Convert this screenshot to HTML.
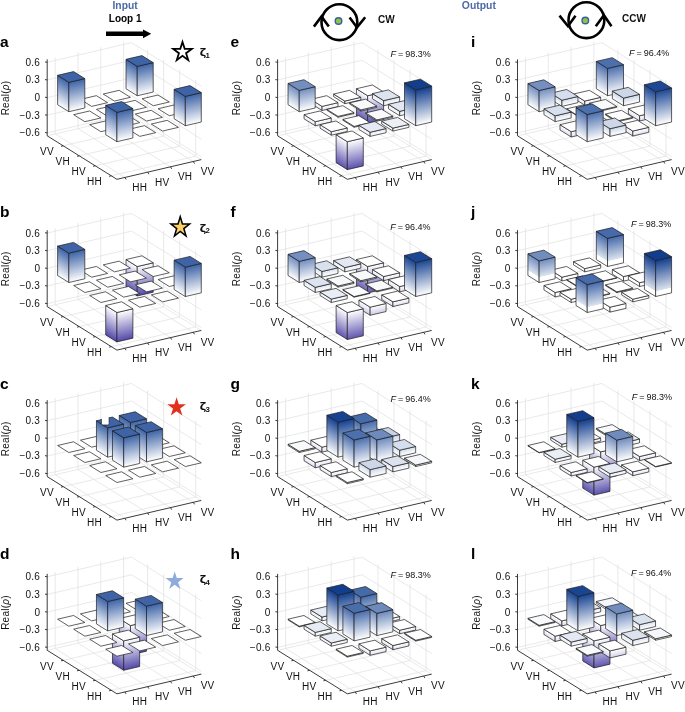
<!DOCTYPE html>
<html lang="en"><head><meta charset="utf-8"><title>Density matrices</title>
<style>html,body{margin:0;padding:0;background:#fff}svg{display:block}text{font-family:"Liberation Sans", Arial, Helvetica, sans-serif}text.z{font-family:"DejaVu Sans","Liberation Sans",sans-serif}tspan.s{font-family:"Liberation Sans", Arial, Helvetica, sans-serif}</style>
</head><body>
<svg width="685" height="712" viewBox="0 0 685 712">
<rect width="685" height="712" fill="#fff"/>
<defs><linearGradient id="g0" gradientUnits="userSpaceOnUse" x1="126.02" y1="59.34" x2="112.82" y2="80.5"><stop offset="0" stop-color="#3e64a7"/><stop offset="1" stop-color="#fff"/></linearGradient><linearGradient id="g1" gradientUnits="userSpaceOnUse" x1="137.24" y1="66.34" x2="143.75" y2="94.22"><stop offset="0" stop-color="#3e64a7"/><stop offset="1" stop-color="#fff"/></linearGradient><linearGradient id="g2" gradientUnits="userSpaceOnUse" x1="57.62" y1="75.3" x2="44.42" y2="96.46"><stop offset="0" stop-color="#3e64a7"/><stop offset="1" stop-color="#fff"/></linearGradient><linearGradient id="g3" gradientUnits="userSpaceOnUse" x1="68.84" y1="82.3" x2="75.35" y2="110.18"><stop offset="0" stop-color="#3e64a7"/><stop offset="1" stop-color="#fff"/></linearGradient><linearGradient id="g4" gradientUnits="userSpaceOnUse" x1="174.11" y1="89.34" x2="160.91" y2="110.5"><stop offset="0" stop-color="#3e64a7"/><stop offset="1" stop-color="#fff"/></linearGradient><linearGradient id="g5" gradientUnits="userSpaceOnUse" x1="185.33" y1="96.34" x2="191.84" y2="124.22"><stop offset="0" stop-color="#3e64a7"/><stop offset="1" stop-color="#fff"/></linearGradient><linearGradient id="g6" gradientUnits="userSpaceOnUse" x1="105.71" y1="105.3" x2="92.51" y2="126.46"><stop offset="0" stop-color="#3e64a7"/><stop offset="1" stop-color="#fff"/></linearGradient><linearGradient id="g7" gradientUnits="userSpaceOnUse" x1="116.93" y1="112.3" x2="123.44" y2="140.18"><stop offset="0" stop-color="#3e64a7"/><stop offset="1" stop-color="#fff"/></linearGradient><linearGradient id="g8" gradientUnits="userSpaceOnUse" x1="126.02" y1="259.54" x2="112.82" y2="280.7"><stop offset="0" stop-color="#fff"/><stop offset="1" stop-color="#544aaa"/></linearGradient><linearGradient id="g9" gradientUnits="userSpaceOnUse" x1="137.24" y1="266.54" x2="143.75" y2="294.42"><stop offset="0" stop-color="#fff"/><stop offset="1" stop-color="#544aaa"/></linearGradient><linearGradient id="g10" gradientUnits="userSpaceOnUse" x1="57.62" y1="246.1" x2="44.42" y2="267.26"><stop offset="0" stop-color="#3e64a7"/><stop offset="1" stop-color="#fff"/></linearGradient><linearGradient id="g11" gradientUnits="userSpaceOnUse" x1="68.84" y1="253.1" x2="75.35" y2="280.98"><stop offset="0" stop-color="#3e64a7"/><stop offset="1" stop-color="#fff"/></linearGradient><linearGradient id="g12" gradientUnits="userSpaceOnUse" x1="174.11" y1="260.14" x2="160.91" y2="281.3"><stop offset="0" stop-color="#3e64a7"/><stop offset="1" stop-color="#fff"/></linearGradient><linearGradient id="g13" gradientUnits="userSpaceOnUse" x1="185.33" y1="267.14" x2="191.84" y2="295.02"><stop offset="0" stop-color="#3e64a7"/><stop offset="1" stop-color="#fff"/></linearGradient><linearGradient id="g14" gradientUnits="userSpaceOnUse" x1="105.71" y1="305.5" x2="92.51" y2="326.66"><stop offset="0" stop-color="#fff"/><stop offset="1" stop-color="#544aaa"/></linearGradient><linearGradient id="g15" gradientUnits="userSpaceOnUse" x1="116.93" y1="312.5" x2="123.44" y2="340.38"><stop offset="0" stop-color="#fff"/><stop offset="1" stop-color="#544aaa"/></linearGradient><linearGradient id="g16" gradientUnits="userSpaceOnUse" x1="119.25" y1="415.46" x2="106.05" y2="436.62"><stop offset="0" stop-color="#3e64a7"/><stop offset="1" stop-color="#fff"/></linearGradient><linearGradient id="g17" gradientUnits="userSpaceOnUse" x1="130.47" y1="422.46" x2="136.98" y2="450.34"><stop offset="0" stop-color="#3e64a7"/><stop offset="1" stop-color="#fff"/></linearGradient><linearGradient id="g18" gradientUnits="userSpaceOnUse" x1="96.45" y1="420.78" x2="83.25" y2="441.94"><stop offset="0" stop-color="#3e64a7"/><stop offset="1" stop-color="#fff"/></linearGradient><linearGradient id="g19" gradientUnits="userSpaceOnUse" x1="107.67" y1="427.78" x2="114.18" y2="455.66"><stop offset="0" stop-color="#3e64a7"/><stop offset="1" stop-color="#fff"/></linearGradient><linearGradient id="g20" gradientUnits="userSpaceOnUse" x1="135.28" y1="425.46" x2="122.08" y2="446.62"><stop offset="0" stop-color="#3e64a7"/><stop offset="1" stop-color="#fff"/></linearGradient><linearGradient id="g21" gradientUnits="userSpaceOnUse" x1="146.5" y1="432.46" x2="153.01" y2="460.34"><stop offset="0" stop-color="#3e64a7"/><stop offset="1" stop-color="#fff"/></linearGradient><linearGradient id="g22" gradientUnits="userSpaceOnUse" x1="112.48" y1="430.78" x2="99.28" y2="451.94"><stop offset="0" stop-color="#3e64a7"/><stop offset="1" stop-color="#fff"/></linearGradient><linearGradient id="g23" gradientUnits="userSpaceOnUse" x1="123.7" y1="437.78" x2="130.21" y2="465.66"><stop offset="0" stop-color="#3e64a7"/><stop offset="1" stop-color="#fff"/></linearGradient><linearGradient id="g24" gradientUnits="userSpaceOnUse" x1="119.25" y1="618.56" x2="106.05" y2="639.72"><stop offset="0" stop-color="#fff"/><stop offset="1" stop-color="#544aaa"/></linearGradient><linearGradient id="g25" gradientUnits="userSpaceOnUse" x1="130.47" y1="625.56" x2="136.98" y2="653.44"><stop offset="0" stop-color="#fff"/><stop offset="1" stop-color="#544aaa"/></linearGradient><linearGradient id="g26" gradientUnits="userSpaceOnUse" x1="96.45" y1="594.48" x2="83.25" y2="615.64"><stop offset="0" stop-color="#3e64a7"/><stop offset="1" stop-color="#fff"/></linearGradient><linearGradient id="g27" gradientUnits="userSpaceOnUse" x1="107.67" y1="601.48" x2="114.18" y2="629.36"><stop offset="0" stop-color="#3e64a7"/><stop offset="1" stop-color="#fff"/></linearGradient><linearGradient id="g28" gradientUnits="userSpaceOnUse" x1="135.28" y1="599.16" x2="122.08" y2="620.32"><stop offset="0" stop-color="#3e64a7"/><stop offset="1" stop-color="#fff"/></linearGradient><linearGradient id="g29" gradientUnits="userSpaceOnUse" x1="146.5" y1="606.16" x2="153.01" y2="634.04"><stop offset="0" stop-color="#3e64a7"/><stop offset="1" stop-color="#fff"/></linearGradient><linearGradient id="g30" gradientUnits="userSpaceOnUse" x1="112.48" y1="633.88" x2="99.28" y2="655.04"><stop offset="0" stop-color="#fff"/><stop offset="1" stop-color="#544aaa"/></linearGradient><linearGradient id="g31" gradientUnits="userSpaceOnUse" x1="123.7" y1="640.88" x2="130.21" y2="668.76"><stop offset="0" stop-color="#fff"/><stop offset="1" stop-color="#544aaa"/></linearGradient><linearGradient id="g32" gradientUnits="userSpaceOnUse" x1="356.42" y1="88.74" x2="344.14" y2="108.42"><stop offset="0" stop-color="#fff"/><stop offset="1" stop-color="#6057b0"/></linearGradient><linearGradient id="g33" gradientUnits="userSpaceOnUse" x1="367.64" y1="95.74" x2="373.69" y2="121.67"><stop offset="0" stop-color="#fff"/><stop offset="1" stop-color="#6057b0"/></linearGradient><linearGradient id="g34" gradientUnits="userSpaceOnUse" x1="333.62" y1="94.06" x2="332.43" y2="95.96"><stop offset="0" stop-color="#fff"/><stop offset="1" stop-color="#f0eff7"/></linearGradient><linearGradient id="g35" gradientUnits="userSpaceOnUse" x1="344.84" y1="101.06" x2="345.43" y2="103.57"><stop offset="0" stop-color="#fff"/><stop offset="1" stop-color="#f0eff7"/></linearGradient><linearGradient id="g36" gradientUnits="userSpaceOnUse" x1="310.82" y1="99.38" x2="308.97" y2="102.34"><stop offset="0" stop-color="#fff"/><stop offset="1" stop-color="#e7e6f3"/></linearGradient><linearGradient id="g37" gradientUnits="userSpaceOnUse" x1="322.04" y1="106.38" x2="322.95" y2="110.28"><stop offset="0" stop-color="#fff"/><stop offset="1" stop-color="#e7e6f3"/></linearGradient><linearGradient id="g38" gradientUnits="userSpaceOnUse" x1="288.02" y1="83.41" x2="278.46" y2="98.74"><stop offset="0" stop-color="#738fbf"/><stop offset="1" stop-color="#fff"/></linearGradient><linearGradient id="g39" gradientUnits="userSpaceOnUse" x1="299.24" y1="90.41" x2="303.95" y2="110.6"><stop offset="0" stop-color="#738fbf"/><stop offset="1" stop-color="#fff"/></linearGradient><linearGradient id="g40" gradientUnits="userSpaceOnUse" x1="372.45" y1="93.62" x2="370.15" y2="97.31"><stop offset="0" stop-color="#dde4f0"/><stop offset="1" stop-color="#fff"/></linearGradient><linearGradient id="g41" gradientUnits="userSpaceOnUse" x1="383.67" y1="100.62" x2="384.8" y2="105.48"><stop offset="0" stop-color="#dde4f0"/><stop offset="1" stop-color="#fff"/></linearGradient><linearGradient id="g42" gradientUnits="userSpaceOnUse" x1="349.65" y1="102.88" x2="349.12" y2="103.73"><stop offset="0" stop-color="#f7f9fb"/><stop offset="1" stop-color="#fff"/></linearGradient><linearGradient id="g43" gradientUnits="userSpaceOnUse" x1="360.87" y1="109.88" x2="361.13" y2="111"><stop offset="0" stop-color="#f7f9fb"/><stop offset="1" stop-color="#fff"/></linearGradient><linearGradient id="g44" gradientUnits="userSpaceOnUse" x1="326.85" y1="109.38" x2="326.45" y2="110.01"><stop offset="0" stop-color="#fff"/><stop offset="1" stop-color="#fafafc"/></linearGradient><linearGradient id="g45" gradientUnits="userSpaceOnUse" x1="338.07" y1="116.38" x2="338.27" y2="117.22"><stop offset="0" stop-color="#fff"/><stop offset="1" stop-color="#fafafc"/></linearGradient><linearGradient id="g46" gradientUnits="userSpaceOnUse" x1="304.05" y1="114.7" x2="302.2" y2="117.66"><stop offset="0" stop-color="#fff"/><stop offset="1" stop-color="#e7e6f3"/></linearGradient><linearGradient id="g47" gradientUnits="userSpaceOnUse" x1="315.27" y1="121.7" x2="316.18" y2="125.6"><stop offset="0" stop-color="#fff"/><stop offset="1" stop-color="#e7e6f3"/></linearGradient><linearGradient id="g48" gradientUnits="userSpaceOnUse" x1="388.48" y1="104.33" x2="386.5" y2="107.5"><stop offset="0" stop-color="#e2e8f2"/><stop offset="1" stop-color="#fff"/></linearGradient><linearGradient id="g49" gradientUnits="userSpaceOnUse" x1="399.7" y1="111.33" x2="400.68" y2="115.51"><stop offset="0" stop-color="#e2e8f2"/><stop offset="1" stop-color="#fff"/></linearGradient><linearGradient id="g50" gradientUnits="userSpaceOnUse" x1="365.68" y1="112.88" x2="365.15" y2="113.73"><stop offset="0" stop-color="#f7f9fb"/><stop offset="1" stop-color="#fff"/></linearGradient><linearGradient id="g51" gradientUnits="userSpaceOnUse" x1="376.9" y1="119.88" x2="377.16" y2="121"><stop offset="0" stop-color="#f7f9fb"/><stop offset="1" stop-color="#fff"/></linearGradient><linearGradient id="g52" gradientUnits="userSpaceOnUse" x1="342.88" y1="119.38" x2="342.48" y2="120.01"><stop offset="0" stop-color="#fff"/><stop offset="1" stop-color="#fafafc"/></linearGradient><linearGradient id="g53" gradientUnits="userSpaceOnUse" x1="354.1" y1="126.38" x2="354.3" y2="127.22"><stop offset="0" stop-color="#fff"/><stop offset="1" stop-color="#fafafc"/></linearGradient><linearGradient id="g54" gradientUnits="userSpaceOnUse" x1="320.08" y1="124.7" x2="318.5" y2="127.24"><stop offset="0" stop-color="#fff"/><stop offset="1" stop-color="#eae9f5"/></linearGradient><linearGradient id="g55" gradientUnits="userSpaceOnUse" x1="331.3" y1="131.7" x2="332.08" y2="135.05"><stop offset="0" stop-color="#fff"/><stop offset="1" stop-color="#eae9f5"/></linearGradient><linearGradient id="g56" gradientUnits="userSpaceOnUse" x1="404.51" y1="82.87" x2="388.4" y2="108.69"><stop offset="0" stop-color="#123e8e"/><stop offset="1" stop-color="#fff"/></linearGradient><linearGradient id="g57" gradientUnits="userSpaceOnUse" x1="415.73" y1="89.87" x2="423.67" y2="123.89"><stop offset="0" stop-color="#123e8e"/><stop offset="1" stop-color="#fff"/></linearGradient><linearGradient id="g58" gradientUnits="userSpaceOnUse" x1="381.71" y1="121.12" x2="380.39" y2="123.24"><stop offset="0" stop-color="#ecf0f6"/><stop offset="1" stop-color="#fff"/></linearGradient><linearGradient id="g59" gradientUnits="userSpaceOnUse" x1="392.93" y1="128.12" x2="393.58" y2="130.91"><stop offset="0" stop-color="#ecf0f6"/><stop offset="1" stop-color="#fff"/></linearGradient><linearGradient id="g60" gradientUnits="userSpaceOnUse" x1="358.91" y1="125.26" x2="357.06" y2="128.23"><stop offset="0" stop-color="#e4e9f3"/><stop offset="1" stop-color="#fff"/></linearGradient><linearGradient id="g61" gradientUnits="userSpaceOnUse" x1="370.13" y1="132.26" x2="371.04" y2="136.17"><stop offset="0" stop-color="#e4e9f3"/><stop offset="1" stop-color="#fff"/></linearGradient><linearGradient id="g62" gradientUnits="userSpaceOnUse" x1="336.11" y1="134.7" x2="323.57" y2="154.81"><stop offset="0" stop-color="#fff"/><stop offset="1" stop-color="#5d53ae"/></linearGradient><linearGradient id="g63" gradientUnits="userSpaceOnUse" x1="347.33" y1="141.7" x2="353.51" y2="168.19"><stop offset="0" stop-color="#fff"/><stop offset="1" stop-color="#5d53ae"/></linearGradient><linearGradient id="g64" gradientUnits="userSpaceOnUse" x1="356.42" y1="259.54" x2="344.54" y2="278.59"><stop offset="0" stop-color="#fff"/><stop offset="1" stop-color="#655cb2"/></linearGradient><linearGradient id="g65" gradientUnits="userSpaceOnUse" x1="367.64" y1="266.54" x2="373.5" y2="291.63"><stop offset="0" stop-color="#fff"/><stop offset="1" stop-color="#655cb2"/></linearGradient><linearGradient id="g66" gradientUnits="userSpaceOnUse" x1="333.62" y1="260.57" x2="331.69" y2="263.66"><stop offset="0" stop-color="#e3e8f2"/><stop offset="1" stop-color="#fff"/></linearGradient><linearGradient id="g67" gradientUnits="userSpaceOnUse" x1="344.84" y1="267.57" x2="345.79" y2="271.64"><stop offset="0" stop-color="#e3e8f2"/><stop offset="1" stop-color="#fff"/></linearGradient><linearGradient id="g68" gradientUnits="userSpaceOnUse" x1="310.82" y1="264.48" x2="308.26" y2="268.58"><stop offset="0" stop-color="#dae1ee"/><stop offset="1" stop-color="#fff"/></linearGradient><linearGradient id="g69" gradientUnits="userSpaceOnUse" x1="322.04" y1="271.48" x2="323.3" y2="276.89"><stop offset="0" stop-color="#dae1ee"/><stop offset="1" stop-color="#fff"/></linearGradient><linearGradient id="g70" gradientUnits="userSpaceOnUse" x1="288.02" y1="254.33" x2="278.51" y2="269.57"><stop offset="0" stop-color="#748fc0"/><stop offset="1" stop-color="#fff"/></linearGradient><linearGradient id="g71" gradientUnits="userSpaceOnUse" x1="299.24" y1="261.33" x2="303.92" y2="281.41"><stop offset="0" stop-color="#748fc0"/><stop offset="1" stop-color="#fff"/></linearGradient><linearGradient id="g72" gradientUnits="userSpaceOnUse" x1="372.45" y1="269.54" x2="370.6" y2="272.5"><stop offset="0" stop-color="#fff"/><stop offset="1" stop-color="#e7e6f3"/></linearGradient><linearGradient id="g73" gradientUnits="userSpaceOnUse" x1="383.67" y1="276.54" x2="384.58" y2="280.44"><stop offset="0" stop-color="#fff"/><stop offset="1" stop-color="#e7e6f3"/></linearGradient><linearGradient id="g74" gradientUnits="userSpaceOnUse" x1="349.65" y1="273.68" x2="349.12" y2="274.53"><stop offset="0" stop-color="#f7f9fb"/><stop offset="1" stop-color="#fff"/></linearGradient><linearGradient id="g75" gradientUnits="userSpaceOnUse" x1="360.87" y1="280.68" x2="361.13" y2="281.8"><stop offset="0" stop-color="#f7f9fb"/><stop offset="1" stop-color="#fff"/></linearGradient><linearGradient id="g76" gradientUnits="userSpaceOnUse" x1="326.85" y1="279" x2="326.32" y2="279.85"><stop offset="0" stop-color="#f7f9fb"/><stop offset="1" stop-color="#fff"/></linearGradient><linearGradient id="g77" gradientUnits="userSpaceOnUse" x1="338.07" y1="286" x2="338.33" y2="287.12"><stop offset="0" stop-color="#f7f9fb"/><stop offset="1" stop-color="#fff"/></linearGradient><linearGradient id="g78" gradientUnits="userSpaceOnUse" x1="304.05" y1="280.33" x2="301.73" y2="284.05"><stop offset="0" stop-color="#dde4f0"/><stop offset="1" stop-color="#fff"/></linearGradient><linearGradient id="g79" gradientUnits="userSpaceOnUse" x1="315.27" y1="287.33" x2="316.42" y2="292.23"><stop offset="0" stop-color="#dde4f0"/><stop offset="1" stop-color="#fff"/></linearGradient><linearGradient id="g80" gradientUnits="userSpaceOnUse" x1="388.48" y1="279.54" x2="386.1" y2="283.35"><stop offset="0" stop-color="#fff"/><stop offset="1" stop-color="#e0def0"/></linearGradient><linearGradient id="g81" gradientUnits="userSpaceOnUse" x1="399.7" y1="286.54" x2="400.87" y2="291.56"><stop offset="0" stop-color="#fff"/><stop offset="1" stop-color="#e0def0"/></linearGradient><linearGradient id="g82" gradientUnits="userSpaceOnUse" x1="365.68" y1="283.98" x2="365.28" y2="284.61"><stop offset="0" stop-color="#f9fafc"/><stop offset="1" stop-color="#fff"/></linearGradient><linearGradient id="g83" gradientUnits="userSpaceOnUse" x1="376.9" y1="290.98" x2="377.1" y2="291.81"><stop offset="0" stop-color="#f9fafc"/><stop offset="1" stop-color="#fff"/></linearGradient><linearGradient id="g84" gradientUnits="userSpaceOnUse" x1="342.88" y1="289.59" x2="342.62" y2="290.02"><stop offset="0" stop-color="#fbfcfd"/><stop offset="1" stop-color="#fff"/></linearGradient><linearGradient id="g85" gradientUnits="userSpaceOnUse" x1="354.1" y1="296.59" x2="354.23" y2="297.15"><stop offset="0" stop-color="#fbfcfd"/><stop offset="1" stop-color="#fff"/></linearGradient><linearGradient id="g86" gradientUnits="userSpaceOnUse" x1="320.08" y1="292.09" x2="318.55" y2="294.54"><stop offset="0" stop-color="#e9edf5"/><stop offset="1" stop-color="#fff"/></linearGradient><linearGradient id="g87" gradientUnits="userSpaceOnUse" x1="331.3" y1="299.09" x2="332.06" y2="302.32"><stop offset="0" stop-color="#e9edf5"/><stop offset="1" stop-color="#fff"/></linearGradient><linearGradient id="g88" gradientUnits="userSpaceOnUse" x1="404.51" y1="255.44" x2="389.19" y2="279.99"><stop offset="0" stop-color="#1c4795"/><stop offset="1" stop-color="#fff"/></linearGradient><linearGradient id="g89" gradientUnits="userSpaceOnUse" x1="415.73" y1="262.44" x2="423.28" y2="294.78"><stop offset="0" stop-color="#1c4795"/><stop offset="1" stop-color="#fff"/></linearGradient><linearGradient id="g90" gradientUnits="userSpaceOnUse" x1="381.71" y1="294.86" x2="379.6" y2="298.25"><stop offset="0" stop-color="#fff"/><stop offset="1" stop-color="#e4e2f1"/></linearGradient><linearGradient id="g91" gradientUnits="userSpaceOnUse" x1="392.93" y1="301.86" x2="393.97" y2="306.32"><stop offset="0" stop-color="#fff"/><stop offset="1" stop-color="#e4e2f1"/></linearGradient><linearGradient id="g92" gradientUnits="userSpaceOnUse" x1="358.91" y1="300.18" x2="355.27" y2="306.02"><stop offset="0" stop-color="#fff"/><stop offset="1" stop-color="#d0cde8"/></linearGradient><linearGradient id="g93" gradientUnits="userSpaceOnUse" x1="370.13" y1="307.18" x2="371.93" y2="314.88"><stop offset="0" stop-color="#fff"/><stop offset="1" stop-color="#d0cde8"/></linearGradient><linearGradient id="g94" gradientUnits="userSpaceOnUse" x1="336.11" y1="305.5" x2="323.96" y2="324.97"><stop offset="0" stop-color="#fff"/><stop offset="1" stop-color="#6258b1"/></linearGradient><linearGradient id="g95" gradientUnits="userSpaceOnUse" x1="347.33" y1="312.5" x2="353.32" y2="338.15"><stop offset="0" stop-color="#fff"/><stop offset="1" stop-color="#6258b1"/></linearGradient><linearGradient id="g96" gradientUnits="userSpaceOnUse" x1="356.42" y1="429.54" x2="355.89" y2="430.39"><stop offset="0" stop-color="#fff"/><stop offset="1" stop-color="#f8f8fc"/></linearGradient><linearGradient id="g97" gradientUnits="userSpaceOnUse" x1="367.64" y1="436.54" x2="367.9" y2="437.66"><stop offset="0" stop-color="#fff"/><stop offset="1" stop-color="#f8f8fc"/></linearGradient><linearGradient id="g98" gradientUnits="userSpaceOnUse" x1="310.82" y1="440.18" x2="308.58" y2="443.78"><stop offset="0" stop-color="#fff"/><stop offset="1" stop-color="#e2e0f1"/></linearGradient><linearGradient id="g99" gradientUnits="userSpaceOnUse" x1="322.04" y1="447.18" x2="323.15" y2="451.92"><stop offset="0" stop-color="#fff"/><stop offset="1" stop-color="#e2e0f1"/></linearGradient><linearGradient id="g100" gradientUnits="userSpaceOnUse" x1="288.02" y1="444.32" x2="287.49" y2="445.17"><stop offset="0" stop-color="#f7f9fb"/><stop offset="1" stop-color="#fff"/></linearGradient><linearGradient id="g101" gradientUnits="userSpaceOnUse" x1="299.24" y1="451.32" x2="299.5" y2="452.44"><stop offset="0" stop-color="#f7f9fb"/><stop offset="1" stop-color="#fff"/></linearGradient><linearGradient id="g102" gradientUnits="userSpaceOnUse" x1="372.45" y1="431.19" x2="368.7" y2="437.2"><stop offset="0" stop-color="#c8d3e6"/><stop offset="1" stop-color="#fff"/></linearGradient><linearGradient id="g103" gradientUnits="userSpaceOnUse" x1="383.67" y1="438.19" x2="385.52" y2="446.11"><stop offset="0" stop-color="#c8d3e6"/><stop offset="1" stop-color="#fff"/></linearGradient><linearGradient id="g104" gradientUnits="userSpaceOnUse" x1="349.65" y1="416.75" x2="337.03" y2="436.99"><stop offset="0" stop-color="#466bab"/><stop offset="1" stop-color="#fff"/></linearGradient><linearGradient id="g105" gradientUnits="userSpaceOnUse" x1="360.87" y1="423.75" x2="367.09" y2="450.41"><stop offset="0" stop-color="#466bab"/><stop offset="1" stop-color="#fff"/></linearGradient><linearGradient id="g106" gradientUnits="userSpaceOnUse" x1="326.85" y1="415.19" x2="311.14" y2="440.38"><stop offset="0" stop-color="#164291"/><stop offset="1" stop-color="#fff"/></linearGradient><linearGradient id="g107" gradientUnits="userSpaceOnUse" x1="338.07" y1="422.19" x2="345.81" y2="455.37"><stop offset="0" stop-color="#164291"/><stop offset="1" stop-color="#fff"/></linearGradient><linearGradient id="g108" gradientUnits="userSpaceOnUse" x1="304.05" y1="455.5" x2="301.67" y2="459.31"><stop offset="0" stop-color="#fff"/><stop offset="1" stop-color="#e0def0"/></linearGradient><linearGradient id="g109" gradientUnits="userSpaceOnUse" x1="315.27" y1="462.5" x2="316.44" y2="467.52"><stop offset="0" stop-color="#fff"/><stop offset="1" stop-color="#e0def0"/></linearGradient><linearGradient id="g110" gradientUnits="userSpaceOnUse" x1="388.48" y1="443.19" x2="385.63" y2="447.76"><stop offset="0" stop-color="#d5deec"/><stop offset="1" stop-color="#fff"/></linearGradient><linearGradient id="g111" gradientUnits="userSpaceOnUse" x1="399.7" y1="450.19" x2="401.11" y2="456.21"><stop offset="0" stop-color="#d5deec"/><stop offset="1" stop-color="#fff"/></linearGradient><linearGradient id="g112" gradientUnits="userSpaceOnUse" x1="365.68" y1="432.87" x2="355.8" y2="448.7"><stop offset="0" stop-color="#6f8bbd"/><stop offset="1" stop-color="#fff"/></linearGradient><linearGradient id="g113" gradientUnits="userSpaceOnUse" x1="376.9" y1="439.87" x2="381.77" y2="460.72"><stop offset="0" stop-color="#6f8bbd"/><stop offset="1" stop-color="#fff"/></linearGradient><linearGradient id="g114" gradientUnits="userSpaceOnUse" x1="342.88" y1="432.96" x2="330.65" y2="452.55"><stop offset="0" stop-color="#4c6fae"/><stop offset="1" stop-color="#fff"/></linearGradient><linearGradient id="g115" gradientUnits="userSpaceOnUse" x1="354.1" y1="439.96" x2="360.12" y2="465.77"><stop offset="0" stop-color="#4c6fae"/><stop offset="1" stop-color="#fff"/></linearGradient><linearGradient id="g116" gradientUnits="userSpaceOnUse" x1="320.08" y1="465.5" x2="318.23" y2="468.46"><stop offset="0" stop-color="#fff"/><stop offset="1" stop-color="#e7e6f3"/></linearGradient><linearGradient id="g117" gradientUnits="userSpaceOnUse" x1="331.3" y1="472.5" x2="332.21" y2="476.4"><stop offset="0" stop-color="#fff"/><stop offset="1" stop-color="#e7e6f3"/></linearGradient><linearGradient id="g118" gradientUnits="userSpaceOnUse" x1="404.51" y1="458.07" x2="403.85" y2="459.13"><stop offset="0" stop-color="#f5f7fb"/><stop offset="1" stop-color="#fff"/></linearGradient><linearGradient id="g119" gradientUnits="userSpaceOnUse" x1="415.73" y1="465.07" x2="416.06" y2="466.46"><stop offset="0" stop-color="#f5f7fb"/><stop offset="1" stop-color="#fff"/></linearGradient><linearGradient id="g120" gradientUnits="userSpaceOnUse" x1="381.71" y1="459.57" x2="379.33" y2="463.38"><stop offset="0" stop-color="#dce3ef"/><stop offset="1" stop-color="#fff"/></linearGradient><linearGradient id="g121" gradientUnits="userSpaceOnUse" x1="392.93" y1="466.57" x2="394.1" y2="471.59"><stop offset="0" stop-color="#dce3ef"/><stop offset="1" stop-color="#fff"/></linearGradient><linearGradient id="g122" gradientUnits="userSpaceOnUse" x1="358.91" y1="462.65" x2="355.53" y2="468.07"><stop offset="0" stop-color="#ced7e8"/><stop offset="1" stop-color="#fff"/></linearGradient><linearGradient id="g123" gradientUnits="userSpaceOnUse" x1="370.13" y1="469.65" x2="371.8" y2="476.79"><stop offset="0" stop-color="#ced7e8"/><stop offset="1" stop-color="#fff"/></linearGradient><linearGradient id="g124" gradientUnits="userSpaceOnUse" x1="336.11" y1="475.5" x2="335.58" y2="476.35"><stop offset="0" stop-color="#fff"/><stop offset="1" stop-color="#f8f8fc"/></linearGradient><linearGradient id="g125" gradientUnits="userSpaceOnUse" x1="347.33" y1="482.5" x2="347.59" y2="483.62"><stop offset="0" stop-color="#fff"/><stop offset="1" stop-color="#f8f8fc"/></linearGradient><linearGradient id="g126" gradientUnits="userSpaceOnUse" x1="356.42" y1="603.24" x2="355.89" y2="604.09"><stop offset="0" stop-color="#fff"/><stop offset="1" stop-color="#f8f8fc"/></linearGradient><linearGradient id="g127" gradientUnits="userSpaceOnUse" x1="367.64" y1="610.24" x2="367.9" y2="611.36"><stop offset="0" stop-color="#fff"/><stop offset="1" stop-color="#f8f8fc"/></linearGradient><linearGradient id="g128" gradientUnits="userSpaceOnUse" x1="333.62" y1="608.56" x2="333.09" y2="609.41"><stop offset="0" stop-color="#fff"/><stop offset="1" stop-color="#f8f8fc"/></linearGradient><linearGradient id="g129" gradientUnits="userSpaceOnUse" x1="344.84" y1="615.56" x2="345.1" y2="616.68"><stop offset="0" stop-color="#fff"/><stop offset="1" stop-color="#f8f8fc"/></linearGradient><linearGradient id="g130" gradientUnits="userSpaceOnUse" x1="310.82" y1="610.06" x2="309.1" y2="612.81"><stop offset="0" stop-color="#e6ebf4"/><stop offset="1" stop-color="#fff"/></linearGradient><linearGradient id="g131" gradientUnits="userSpaceOnUse" x1="322.04" y1="617.06" x2="322.89" y2="620.68"><stop offset="0" stop-color="#e6ebf4"/><stop offset="1" stop-color="#fff"/></linearGradient><linearGradient id="g132" gradientUnits="userSpaceOnUse" x1="288.02" y1="619.2" x2="287.7" y2="619.71"><stop offset="0" stop-color="#fff"/><stop offset="1" stop-color="#fbfbfd"/></linearGradient><linearGradient id="g133" gradientUnits="userSpaceOnUse" x1="299.24" y1="626.2" x2="299.4" y2="626.87"><stop offset="0" stop-color="#fff"/><stop offset="1" stop-color="#fbfbfd"/></linearGradient><linearGradient id="g134" gradientUnits="userSpaceOnUse" x1="372.45" y1="613.24" x2="371.13" y2="615.36"><stop offset="0" stop-color="#fff"/><stop offset="1" stop-color="#eeedf6"/></linearGradient><linearGradient id="g135" gradientUnits="userSpaceOnUse" x1="383.67" y1="620.24" x2="384.32" y2="623.03"><stop offset="0" stop-color="#fff"/><stop offset="1" stop-color="#eeedf6"/></linearGradient><linearGradient id="g136" gradientUnits="userSpaceOnUse" x1="349.65" y1="590.22" x2="336.92" y2="610.62"><stop offset="0" stop-color="#456aaa"/><stop offset="1" stop-color="#fff"/></linearGradient><linearGradient id="g137" gradientUnits="userSpaceOnUse" x1="360.87" y1="597.22" x2="367.14" y2="624.1"><stop offset="0" stop-color="#456aaa"/><stop offset="1" stop-color="#fff"/></linearGradient><linearGradient id="g138" gradientUnits="userSpaceOnUse" x1="326.85" y1="588.01" x2="310.74" y2="613.83"><stop offset="0" stop-color="#123e8e"/><stop offset="1" stop-color="#fff"/></linearGradient><linearGradient id="g139" gradientUnits="userSpaceOnUse" x1="338.07" y1="595.01" x2="346.01" y2="629.03"><stop offset="0" stop-color="#123e8e"/><stop offset="1" stop-color="#fff"/></linearGradient><linearGradient id="g140" gradientUnits="userSpaceOnUse" x1="304.05" y1="625.38" x2="302.33" y2="628.13"><stop offset="0" stop-color="#e6ebf4"/><stop offset="1" stop-color="#fff"/></linearGradient><linearGradient id="g141" gradientUnits="userSpaceOnUse" x1="315.27" y1="632.38" x2="316.12" y2="636"><stop offset="0" stop-color="#e6ebf4"/><stop offset="1" stop-color="#fff"/></linearGradient><linearGradient id="g142" gradientUnits="userSpaceOnUse" x1="388.48" y1="623.24" x2="386.9" y2="625.78"><stop offset="0" stop-color="#fff"/><stop offset="1" stop-color="#eae9f5"/></linearGradient><linearGradient id="g143" gradientUnits="userSpaceOnUse" x1="399.7" y1="630.24" x2="400.48" y2="633.59"><stop offset="0" stop-color="#fff"/><stop offset="1" stop-color="#eae9f5"/></linearGradient><linearGradient id="g144" gradientUnits="userSpaceOnUse" x1="365.68" y1="606.33" x2="355.7" y2="622.33"><stop offset="0" stop-color="#6d8abc"/><stop offset="1" stop-color="#fff"/></linearGradient><linearGradient id="g145" gradientUnits="userSpaceOnUse" x1="376.9" y1="613.33" x2="381.82" y2="634.41"><stop offset="0" stop-color="#6d8abc"/><stop offset="1" stop-color="#fff"/></linearGradient><linearGradient id="g146" gradientUnits="userSpaceOnUse" x1="342.88" y1="606.24" x2="330.47" y2="626.14"><stop offset="0" stop-color="#4a6dac"/><stop offset="1" stop-color="#fff"/></linearGradient><linearGradient id="g147" gradientUnits="userSpaceOnUse" x1="354.1" y1="613.24" x2="360.22" y2="639.45"><stop offset="0" stop-color="#4a6dac"/><stop offset="1" stop-color="#fff"/></linearGradient><linearGradient id="g148" gradientUnits="userSpaceOnUse" x1="320.08" y1="635.97" x2="318.63" y2="638.29"><stop offset="0" stop-color="#eaeef5"/><stop offset="1" stop-color="#fff"/></linearGradient><linearGradient id="g149" gradientUnits="userSpaceOnUse" x1="331.3" y1="642.97" x2="332.02" y2="646.03"><stop offset="0" stop-color="#eaeef5"/><stop offset="1" stop-color="#fff"/></linearGradient><linearGradient id="g150" gradientUnits="userSpaceOnUse" x1="404.51" y1="633.24" x2="404.11" y2="633.87"><stop offset="0" stop-color="#fff"/><stop offset="1" stop-color="#fafafc"/></linearGradient><linearGradient id="g151" gradientUnits="userSpaceOnUse" x1="415.73" y1="640.24" x2="415.93" y2="641.08"><stop offset="0" stop-color="#fff"/><stop offset="1" stop-color="#fafafc"/></linearGradient><linearGradient id="g152" gradientUnits="userSpaceOnUse" x1="381.71" y1="638.56" x2="379.86" y2="641.52"><stop offset="0" stop-color="#fff"/><stop offset="1" stop-color="#e7e6f3"/></linearGradient><linearGradient id="g153" gradientUnits="userSpaceOnUse" x1="392.93" y1="645.56" x2="393.84" y2="649.46"><stop offset="0" stop-color="#fff"/><stop offset="1" stop-color="#e7e6f3"/></linearGradient><linearGradient id="g154" gradientUnits="userSpaceOnUse" x1="358.91" y1="643.88" x2="356.93" y2="647.05"><stop offset="0" stop-color="#fff"/><stop offset="1" stop-color="#e5e4f2"/></linearGradient><linearGradient id="g155" gradientUnits="userSpaceOnUse" x1="370.13" y1="650.88" x2="371.11" y2="655.06"><stop offset="0" stop-color="#fff"/><stop offset="1" stop-color="#e5e4f2"/></linearGradient><linearGradient id="g156" gradientUnits="userSpaceOnUse" x1="336.11" y1="649.2" x2="335.71" y2="649.83"><stop offset="0" stop-color="#fff"/><stop offset="1" stop-color="#fafafc"/></linearGradient><linearGradient id="g157" gradientUnits="userSpaceOnUse" x1="347.33" y1="656.2" x2="347.53" y2="657.04"><stop offset="0" stop-color="#fff"/><stop offset="1" stop-color="#fafafc"/></linearGradient><linearGradient id="g158" gradientUnits="userSpaceOnUse" x1="596.32" y1="61.4" x2="584.04" y2="81.08"><stop offset="0" stop-color="#4c6fad"/><stop offset="1" stop-color="#fff"/></linearGradient><linearGradient id="g159" gradientUnits="userSpaceOnUse" x1="607.54" y1="68.4" x2="613.59" y2="94.33"><stop offset="0" stop-color="#4c6fad"/><stop offset="1" stop-color="#fff"/></linearGradient><linearGradient id="g160" gradientUnits="userSpaceOnUse" x1="573.52" y1="94.06" x2="571.67" y2="97.02"><stop offset="0" stop-color="#fff"/><stop offset="1" stop-color="#e7e6f3"/></linearGradient><linearGradient id="g161" gradientUnits="userSpaceOnUse" x1="584.74" y1="101.06" x2="585.65" y2="104.96"><stop offset="0" stop-color="#fff"/><stop offset="1" stop-color="#e7e6f3"/></linearGradient><linearGradient id="g162" gradientUnits="userSpaceOnUse" x1="550.72" y1="93.21" x2="547.95" y2="97.65"><stop offset="0" stop-color="#d6deed"/><stop offset="1" stop-color="#fff"/></linearGradient><linearGradient id="g163" gradientUnits="userSpaceOnUse" x1="561.94" y1="100.21" x2="563.31" y2="106.06"><stop offset="0" stop-color="#d6deed"/><stop offset="1" stop-color="#fff"/></linearGradient><linearGradient id="g164" gradientUnits="userSpaceOnUse" x1="527.92" y1="83.53" x2="518.41" y2="98.77"><stop offset="0" stop-color="#748fc0"/><stop offset="1" stop-color="#fff"/></linearGradient><linearGradient id="g165" gradientUnits="userSpaceOnUse" x1="539.14" y1="90.53" x2="543.82" y2="110.61"><stop offset="0" stop-color="#748fc0"/><stop offset="1" stop-color="#fff"/></linearGradient><linearGradient id="g166" gradientUnits="userSpaceOnUse" x1="612.35" y1="91.1" x2="608.92" y2="96.6"><stop offset="0" stop-color="#cdd7e8"/><stop offset="1" stop-color="#fff"/></linearGradient><linearGradient id="g167" gradientUnits="userSpaceOnUse" x1="623.57" y1="98.1" x2="625.26" y2="105.35"><stop offset="0" stop-color="#cdd7e8"/><stop offset="1" stop-color="#fff"/></linearGradient><linearGradient id="g168" gradientUnits="userSpaceOnUse" x1="589.55" y1="103.18" x2="589.15" y2="103.81"><stop offset="0" stop-color="#f9fafc"/><stop offset="1" stop-color="#fff"/></linearGradient><linearGradient id="g169" gradientUnits="userSpaceOnUse" x1="600.77" y1="110.18" x2="600.97" y2="111.01"><stop offset="0" stop-color="#f9fafc"/><stop offset="1" stop-color="#fff"/></linearGradient><linearGradient id="g170" gradientUnits="userSpaceOnUse" x1="566.75" y1="108.79" x2="566.49" y2="109.22"><stop offset="0" stop-color="#fbfcfd"/><stop offset="1" stop-color="#fff"/></linearGradient><linearGradient id="g171" gradientUnits="userSpaceOnUse" x1="577.97" y1="115.79" x2="578.1" y2="116.35"><stop offset="0" stop-color="#fbfcfd"/><stop offset="1" stop-color="#fff"/></linearGradient><linearGradient id="g172" gradientUnits="userSpaceOnUse" x1="543.95" y1="108.82" x2="541.31" y2="113.05"><stop offset="0" stop-color="#d8e0ed"/><stop offset="1" stop-color="#fff"/></linearGradient><linearGradient id="g173" gradientUnits="userSpaceOnUse" x1="555.17" y1="115.82" x2="556.47" y2="121.4"><stop offset="0" stop-color="#d8e0ed"/><stop offset="1" stop-color="#fff"/></linearGradient><linearGradient id="g174" gradientUnits="userSpaceOnUse" x1="628.38" y1="108.74" x2="626" y2="112.55"><stop offset="0" stop-color="#fff"/><stop offset="1" stop-color="#e0def0"/></linearGradient><linearGradient id="g175" gradientUnits="userSpaceOnUse" x1="639.6" y1="115.74" x2="640.77" y2="120.76"><stop offset="0" stop-color="#fff"/><stop offset="1" stop-color="#e0def0"/></linearGradient><linearGradient id="g176" gradientUnits="userSpaceOnUse" x1="605.58" y1="114.06" x2="605.18" y2="114.69"><stop offset="0" stop-color="#fff"/><stop offset="1" stop-color="#fafafc"/></linearGradient><linearGradient id="g177" gradientUnits="userSpaceOnUse" x1="616.8" y1="121.06" x2="617" y2="121.9"><stop offset="0" stop-color="#fff"/><stop offset="1" stop-color="#fafafc"/></linearGradient><linearGradient id="g178" gradientUnits="userSpaceOnUse" x1="582.78" y1="118.79" x2="582.52" y2="119.22"><stop offset="0" stop-color="#fbfcfd"/><stop offset="1" stop-color="#fff"/></linearGradient><linearGradient id="g179" gradientUnits="userSpaceOnUse" x1="594" y1="125.79" x2="594.13" y2="126.35"><stop offset="0" stop-color="#fbfcfd"/><stop offset="1" stop-color="#fff"/></linearGradient><linearGradient id="g180" gradientUnits="userSpaceOnUse" x1="559.98" y1="124.7" x2="557.6" y2="128.51"><stop offset="0" stop-color="#fff"/><stop offset="1" stop-color="#e0def0"/></linearGradient><linearGradient id="g181" gradientUnits="userSpaceOnUse" x1="571.2" y1="131.7" x2="572.37" y2="136.72"><stop offset="0" stop-color="#fff"/><stop offset="1" stop-color="#e0def0"/></linearGradient><linearGradient id="g182" gradientUnits="userSpaceOnUse" x1="644.41" y1="84.75" x2="629.15" y2="109.22"><stop offset="0" stop-color="#1d4895"/><stop offset="1" stop-color="#fff"/></linearGradient><linearGradient id="g183" gradientUnits="userSpaceOnUse" x1="655.63" y1="91.75" x2="663.15" y2="123.99"><stop offset="0" stop-color="#1d4895"/><stop offset="1" stop-color="#fff"/></linearGradient><linearGradient id="g184" gradientUnits="userSpaceOnUse" x1="621.61" y1="124.06" x2="619.37" y2="127.66"><stop offset="0" stop-color="#fff"/><stop offset="1" stop-color="#e2e0f1"/></linearGradient><linearGradient id="g185" gradientUnits="userSpaceOnUse" x1="632.83" y1="131.06" x2="633.94" y2="135.8"><stop offset="0" stop-color="#fff"/><stop offset="1" stop-color="#e2e0f1"/></linearGradient><linearGradient id="g186" gradientUnits="userSpaceOnUse" x1="598.81" y1="121.74" x2="595.38" y2="127.24"><stop offset="0" stop-color="#cdd7e8"/><stop offset="1" stop-color="#fff"/></linearGradient><linearGradient id="g187" gradientUnits="userSpaceOnUse" x1="610.03" y1="128.74" x2="611.72" y2="135.99"><stop offset="0" stop-color="#cdd7e8"/><stop offset="1" stop-color="#fff"/></linearGradient><linearGradient id="g188" gradientUnits="userSpaceOnUse" x1="576.01" y1="107.53" x2="563.81" y2="127.09"><stop offset="0" stop-color="#4d70ae"/><stop offset="1" stop-color="#fff"/></linearGradient><linearGradient id="g189" gradientUnits="userSpaceOnUse" x1="587.23" y1="114.53" x2="593.24" y2="140.3"><stop offset="0" stop-color="#4d70ae"/><stop offset="1" stop-color="#fff"/></linearGradient><linearGradient id="g190" gradientUnits="userSpaceOnUse" x1="596.32" y1="231.32" x2="583.64" y2="251.63"><stop offset="0" stop-color="#466aab"/><stop offset="0.8" stop-color="#dae2ee"/><stop offset="0.82" stop-color="#fff"/><stop offset="1" stop-color="#fff"/></linearGradient><linearGradient id="g191" gradientUnits="userSpaceOnUse" x1="607.54" y1="238.32" x2="613.79" y2="265.08"><stop offset="0" stop-color="#466aab"/><stop offset="0.8" stop-color="#dae2ee"/><stop offset="0.82" stop-color="#fff"/><stop offset="1" stop-color="#fff"/></linearGradient><linearGradient id="g192" gradientUnits="userSpaceOnUse" x1="527.92" y1="253.86" x2="518.2" y2="269.44"><stop offset="0" stop-color="#718dbe"/><stop offset="0.74" stop-color="#dae2ee"/><stop offset="0.76" stop-color="#fff"/><stop offset="1" stop-color="#fff"/></linearGradient><linearGradient id="g193" gradientUnits="userSpaceOnUse" x1="539.14" y1="260.86" x2="543.93" y2="281.38"><stop offset="0" stop-color="#718dbe"/><stop offset="0.74" stop-color="#dae2ee"/><stop offset="0.76" stop-color="#fff"/><stop offset="1" stop-color="#fff"/></linearGradient><linearGradient id="g194" gradientUnits="userSpaceOnUse" x1="644.41" y1="253.5" x2="628.22" y2="279.44"><stop offset="0" stop-color="#123d8d"/><stop offset="0.85" stop-color="#dae1ed"/><stop offset="0.86" stop-color="#fff"/><stop offset="1" stop-color="#fff"/></linearGradient><linearGradient id="g195" gradientUnits="userSpaceOnUse" x1="655.63" y1="260.5" x2="663.61" y2="294.68"><stop offset="0" stop-color="#123d8d"/><stop offset="0.85" stop-color="#dae1ed"/><stop offset="0.86" stop-color="#fff"/><stop offset="1" stop-color="#fff"/></linearGradient><linearGradient id="g196" gradientUnits="userSpaceOnUse" x1="576.01" y1="277.57" x2="563.47" y2="297.68"><stop offset="0" stop-color="#486cab"/><stop offset="0.8" stop-color="#dae2ee"/><stop offset="0.82" stop-color="#fff"/><stop offset="1" stop-color="#fff"/></linearGradient><linearGradient id="g197" gradientUnits="userSpaceOnUse" x1="587.23" y1="284.57" x2="593.41" y2="311.06"><stop offset="0" stop-color="#486cab"/><stop offset="0.8" stop-color="#dae2ee"/><stop offset="0.82" stop-color="#fff"/><stop offset="1" stop-color="#fff"/></linearGradient><linearGradient id="g198" gradientUnits="userSpaceOnUse" x1="596.32" y1="428.36" x2="595.79" y2="429.21"><stop offset="0" stop-color="#f7f9fb"/><stop offset="1" stop-color="#fff"/></linearGradient><linearGradient id="g199" gradientUnits="userSpaceOnUse" x1="607.54" y1="435.36" x2="607.8" y2="436.48"><stop offset="0" stop-color="#f7f9fb"/><stop offset="1" stop-color="#fff"/></linearGradient><linearGradient id="g200" gradientUnits="userSpaceOnUse" x1="573.52" y1="434.86" x2="572.2" y2="436.98"><stop offset="0" stop-color="#fff"/><stop offset="1" stop-color="#eeedf6"/></linearGradient><linearGradient id="g201" gradientUnits="userSpaceOnUse" x1="584.74" y1="441.86" x2="585.39" y2="444.65"><stop offset="0" stop-color="#fff"/><stop offset="1" stop-color="#eeedf6"/></linearGradient><linearGradient id="g202" gradientUnits="userSpaceOnUse" x1="550.72" y1="437.24" x2="549.4" y2="439.36"><stop offset="0" stop-color="#ecf0f6"/><stop offset="1" stop-color="#fff"/></linearGradient><linearGradient id="g203" gradientUnits="userSpaceOnUse" x1="561.94" y1="444.24" x2="562.59" y2="447.03"><stop offset="0" stop-color="#ecf0f6"/><stop offset="1" stop-color="#fff"/></linearGradient><linearGradient id="g204" gradientUnits="userSpaceOnUse" x1="527.92" y1="445.5" x2="527.76" y2="445.75"><stop offset="0" stop-color="#fff"/><stop offset="1" stop-color="#fdfdfe"/></linearGradient><linearGradient id="g205" gradientUnits="userSpaceOnUse" x1="539.14" y1="452.5" x2="539.22" y2="452.83"><stop offset="0" stop-color="#fff"/><stop offset="1" stop-color="#fdfdfe"/></linearGradient><linearGradient id="g206" gradientUnits="userSpaceOnUse" x1="612.35" y1="435.72" x2="610.63" y2="438.47"><stop offset="0" stop-color="#e6ebf4"/><stop offset="1" stop-color="#fff"/></linearGradient><linearGradient id="g207" gradientUnits="userSpaceOnUse" x1="623.57" y1="442.72" x2="624.42" y2="446.34"><stop offset="0" stop-color="#e6ebf4"/><stop offset="1" stop-color="#fff"/></linearGradient><linearGradient id="g208" gradientUnits="userSpaceOnUse" x1="589.55" y1="444.86" x2="577.14" y2="464.75"><stop offset="0" stop-color="#fff"/><stop offset="1" stop-color="#5e55af"/></linearGradient><linearGradient id="g209" gradientUnits="userSpaceOnUse" x1="600.77" y1="451.86" x2="606.89" y2="478.07"><stop offset="0" stop-color="#fff"/><stop offset="1" stop-color="#5e55af"/></linearGradient><linearGradient id="g210" gradientUnits="userSpaceOnUse" x1="566.75" y1="414.43" x2="550.7" y2="440.16"><stop offset="0" stop-color="#133e8e"/><stop offset="1" stop-color="#fff"/></linearGradient><linearGradient id="g211" gradientUnits="userSpaceOnUse" x1="577.97" y1="421.43" x2="585.88" y2="455.33"><stop offset="0" stop-color="#133e8e"/><stop offset="1" stop-color="#fff"/></linearGradient><linearGradient id="g212" gradientUnits="userSpaceOnUse" x1="543.95" y1="452.27" x2="542.5" y2="454.59"><stop offset="0" stop-color="#eaeef5"/><stop offset="1" stop-color="#fff"/></linearGradient><linearGradient id="g213" gradientUnits="userSpaceOnUse" x1="555.17" y1="459.27" x2="555.89" y2="462.33"><stop offset="0" stop-color="#eaeef5"/><stop offset="1" stop-color="#fff"/></linearGradient><linearGradient id="g214" gradientUnits="userSpaceOnUse" x1="628.38" y1="449.54" x2="626.53" y2="452.5"><stop offset="0" stop-color="#fff"/><stop offset="1" stop-color="#e7e6f3"/></linearGradient><linearGradient id="g215" gradientUnits="userSpaceOnUse" x1="639.6" y1="456.54" x2="640.51" y2="460.44"><stop offset="0" stop-color="#fff"/><stop offset="1" stop-color="#e7e6f3"/></linearGradient><linearGradient id="g216" gradientUnits="userSpaceOnUse" x1="605.58" y1="433.1" x2="595.81" y2="448.77"><stop offset="0" stop-color="#708cbe"/><stop offset="1" stop-color="#fff"/></linearGradient><linearGradient id="g217" gradientUnits="userSpaceOnUse" x1="616.8" y1="440.1" x2="621.61" y2="460.74"><stop offset="0" stop-color="#708cbe"/><stop offset="1" stop-color="#fff"/></linearGradient><linearGradient id="g218" gradientUnits="userSpaceOnUse" x1="582.78" y1="460.18" x2="570.24" y2="480.29"><stop offset="0" stop-color="#fff"/><stop offset="1" stop-color="#5d53ae"/></linearGradient><linearGradient id="g219" gradientUnits="userSpaceOnUse" x1="594" y1="467.18" x2="600.18" y2="493.67"><stop offset="0" stop-color="#fff"/><stop offset="1" stop-color="#5d53ae"/></linearGradient><linearGradient id="g220" gradientUnits="userSpaceOnUse" x1="559.98" y1="465.5" x2="558.4" y2="468.04"><stop offset="0" stop-color="#fff"/><stop offset="1" stop-color="#eae9f5"/></linearGradient><linearGradient id="g221" gradientUnits="userSpaceOnUse" x1="571.2" y1="472.5" x2="571.98" y2="475.85"><stop offset="0" stop-color="#fff"/><stop offset="1" stop-color="#eae9f5"/></linearGradient><linearGradient id="g222" gradientUnits="userSpaceOnUse" x1="644.41" y1="459.54" x2="644.2" y2="459.88"><stop offset="0" stop-color="#fff"/><stop offset="1" stop-color="#fcfcfe"/></linearGradient><linearGradient id="g223" gradientUnits="userSpaceOnUse" x1="655.63" y1="466.54" x2="655.73" y2="466.99"><stop offset="0" stop-color="#fff"/><stop offset="1" stop-color="#fcfcfe"/></linearGradient><linearGradient id="g224" gradientUnits="userSpaceOnUse" x1="621.61" y1="464.86" x2="619.89" y2="467.61"><stop offset="0" stop-color="#fff"/><stop offset="1" stop-color="#e9e7f4"/></linearGradient><linearGradient id="g225" gradientUnits="userSpaceOnUse" x1="632.83" y1="471.86" x2="633.68" y2="475.48"><stop offset="0" stop-color="#fff"/><stop offset="1" stop-color="#e9e7f4"/></linearGradient><linearGradient id="g226" gradientUnits="userSpaceOnUse" x1="598.81" y1="466.65" x2="597.23" y2="469.19"><stop offset="0" stop-color="#e8ecf4"/><stop offset="1" stop-color="#fff"/></linearGradient><linearGradient id="g227" gradientUnits="userSpaceOnUse" x1="610.03" y1="473.65" x2="610.81" y2="477"><stop offset="0" stop-color="#e8ecf4"/><stop offset="1" stop-color="#fff"/></linearGradient><linearGradient id="g228" gradientUnits="userSpaceOnUse" x1="576.01" y1="475.5" x2="575.8" y2="475.84"><stop offset="0" stop-color="#fff"/><stop offset="1" stop-color="#fcfcfe"/></linearGradient><linearGradient id="g229" gradientUnits="userSpaceOnUse" x1="587.23" y1="482.5" x2="587.33" y2="482.95"><stop offset="0" stop-color="#fff"/><stop offset="1" stop-color="#fcfcfe"/></linearGradient><linearGradient id="g230" gradientUnits="userSpaceOnUse" x1="596.32" y1="601.48" x2="595.53" y2="602.75"><stop offset="0" stop-color="#f3f6fa"/><stop offset="1" stop-color="#fff"/></linearGradient><linearGradient id="g231" gradientUnits="userSpaceOnUse" x1="607.54" y1="608.48" x2="607.93" y2="610.15"><stop offset="0" stop-color="#f3f6fa"/><stop offset="1" stop-color="#fff"/></linearGradient><linearGradient id="g232" gradientUnits="userSpaceOnUse" x1="573.52" y1="604.44" x2="571.67" y2="607.41"><stop offset="0" stop-color="#e4e9f3"/><stop offset="1" stop-color="#fff"/></linearGradient><linearGradient id="g233" gradientUnits="userSpaceOnUse" x1="584.74" y1="611.44" x2="585.65" y2="615.35"><stop offset="0" stop-color="#e4e9f3"/><stop offset="1" stop-color="#fff"/></linearGradient><linearGradient id="g234" gradientUnits="userSpaceOnUse" x1="550.72" y1="613.88" x2="548.48" y2="617.48"><stop offset="0" stop-color="#fff"/><stop offset="1" stop-color="#e2e0f1"/></linearGradient><linearGradient id="g235" gradientUnits="userSpaceOnUse" x1="561.94" y1="620.88" x2="563.05" y2="625.62"><stop offset="0" stop-color="#fff"/><stop offset="1" stop-color="#e2e0f1"/></linearGradient><linearGradient id="g236" gradientUnits="userSpaceOnUse" x1="527.92" y1="618.32" x2="527.52" y2="618.95"><stop offset="0" stop-color="#f9fafc"/><stop offset="1" stop-color="#fff"/></linearGradient><linearGradient id="g237" gradientUnits="userSpaceOnUse" x1="539.14" y1="625.32" x2="539.34" y2="626.15"><stop offset="0" stop-color="#f9fafc"/><stop offset="1" stop-color="#fff"/></linearGradient><linearGradient id="g238" gradientUnits="userSpaceOnUse" x1="612.35" y1="613.24" x2="611.56" y2="614.51"><stop offset="0" stop-color="#fff"/><stop offset="1" stop-color="#f5f4fa"/></linearGradient><linearGradient id="g239" gradientUnits="userSpaceOnUse" x1="623.57" y1="620.24" x2="623.96" y2="621.91"><stop offset="0" stop-color="#fff"/><stop offset="1" stop-color="#f5f4fa"/></linearGradient><linearGradient id="g240" gradientUnits="userSpaceOnUse" x1="589.55" y1="618.56" x2="577.67" y2="637.61"><stop offset="0" stop-color="#fff"/><stop offset="1" stop-color="#655cb2"/></linearGradient><linearGradient id="g241" gradientUnits="userSpaceOnUse" x1="600.77" y1="625.56" x2="606.63" y2="650.65"><stop offset="0" stop-color="#fff"/><stop offset="1" stop-color="#655cb2"/></linearGradient><linearGradient id="g242" gradientUnits="userSpaceOnUse" x1="566.75" y1="589.36" x2="551.25" y2="614.21"><stop offset="0" stop-color="#194593"/><stop offset="1" stop-color="#fff"/></linearGradient><linearGradient id="g243" gradientUnits="userSpaceOnUse" x1="577.97" y1="596.36" x2="585.61" y2="629.1"><stop offset="0" stop-color="#194593"/><stop offset="1" stop-color="#fff"/></linearGradient><linearGradient id="g244" gradientUnits="userSpaceOnUse" x1="543.95" y1="629.2" x2="541.57" y2="633.01"><stop offset="0" stop-color="#fff"/><stop offset="1" stop-color="#e0def0"/></linearGradient><linearGradient id="g245" gradientUnits="userSpaceOnUse" x1="555.17" y1="636.2" x2="556.34" y2="641.22"><stop offset="0" stop-color="#fff"/><stop offset="1" stop-color="#e0def0"/></linearGradient><linearGradient id="g246" gradientUnits="userSpaceOnUse" x1="628.38" y1="617.65" x2="625.87" y2="621.68"><stop offset="0" stop-color="#dae2ee"/><stop offset="1" stop-color="#fff"/></linearGradient><linearGradient id="g247" gradientUnits="userSpaceOnUse" x1="639.6" y1="624.65" x2="640.84" y2="629.95"><stop offset="0" stop-color="#dae2ee"/><stop offset="1" stop-color="#fff"/></linearGradient><linearGradient id="g248" gradientUnits="userSpaceOnUse" x1="605.58" y1="606.92" x2="595.86" y2="622.5"><stop offset="0" stop-color="#718dbe"/><stop offset="1" stop-color="#fff"/></linearGradient><linearGradient id="g249" gradientUnits="userSpaceOnUse" x1="616.8" y1="613.92" x2="621.59" y2="634.44"><stop offset="0" stop-color="#718dbe"/><stop offset="1" stop-color="#fff"/></linearGradient><linearGradient id="g250" gradientUnits="userSpaceOnUse" x1="582.78" y1="633.88" x2="570.63" y2="653.35"><stop offset="0" stop-color="#fff"/><stop offset="1" stop-color="#6258b1"/></linearGradient><linearGradient id="g251" gradientUnits="userSpaceOnUse" x1="594" y1="640.88" x2="599.99" y2="666.53"><stop offset="0" stop-color="#fff"/><stop offset="1" stop-color="#6258b1"/></linearGradient><linearGradient id="g252" gradientUnits="userSpaceOnUse" x1="559.98" y1="635.08" x2="558.13" y2="638.05"><stop offset="0" stop-color="#e4e9f3"/><stop offset="1" stop-color="#fff"/></linearGradient><linearGradient id="g253" gradientUnits="userSpaceOnUse" x1="571.2" y1="642.08" x2="572.11" y2="645.99"><stop offset="0" stop-color="#e4e9f3"/><stop offset="1" stop-color="#fff"/></linearGradient><linearGradient id="g254" gradientUnits="userSpaceOnUse" x1="644.41" y1="631.77" x2="643.75" y2="632.83"><stop offset="0" stop-color="#f5f7fb"/><stop offset="1" stop-color="#fff"/></linearGradient><linearGradient id="g255" gradientUnits="userSpaceOnUse" x1="655.63" y1="638.77" x2="655.96" y2="640.16"><stop offset="0" stop-color="#f5f7fb"/><stop offset="1" stop-color="#fff"/></linearGradient><linearGradient id="g256" gradientUnits="userSpaceOnUse" x1="621.61" y1="633.27" x2="619.23" y2="637.08"><stop offset="0" stop-color="#dce3ef"/><stop offset="1" stop-color="#fff"/></linearGradient><linearGradient id="g257" gradientUnits="userSpaceOnUse" x1="632.83" y1="640.27" x2="634" y2="645.29"><stop offset="0" stop-color="#dce3ef"/><stop offset="1" stop-color="#fff"/></linearGradient><linearGradient id="g258" gradientUnits="userSpaceOnUse" x1="598.81" y1="643.88" x2="595.64" y2="648.96"><stop offset="0" stop-color="#fff"/><stop offset="1" stop-color="#d6d4eb"/></linearGradient><linearGradient id="g259" gradientUnits="userSpaceOnUse" x1="610.03" y1="650.88" x2="611.59" y2="657.57"><stop offset="0" stop-color="#fff"/><stop offset="1" stop-color="#d6d4eb"/></linearGradient><linearGradient id="g260" gradientUnits="userSpaceOnUse" x1="576.01" y1="648.32" x2="575.61" y2="648.95"><stop offset="0" stop-color="#f9fafc"/><stop offset="1" stop-color="#fff"/></linearGradient><linearGradient id="g261" gradientUnits="userSpaceOnUse" x1="587.23" y1="655.32" x2="587.43" y2="656.15"><stop offset="0" stop-color="#f9fafc"/><stop offset="1" stop-color="#fff"/></linearGradient></defs>
<g><path d="M55.18 133.96L55.18 57.52M55.18 133.96L124.91 177.46M77.98 128.64L77.98 52.2M77.98 128.64L147.71 172.14M100.78 123.32L100.78 46.88M100.78 123.32L170.51 166.82M123.58 118L123.58 41.56M123.58 118L193.31 161.5M147.59 126.14L147.59 49.7M63.23 145.82L147.59 126.14M163.62 136.14L163.62 59.7M79.26 155.82L163.62 136.14M179.65 146.14L179.65 69.7M95.29 165.82L179.65 146.14M195.68 156.14L195.68 79.7M111.32 175.82L195.68 156.14M47.2 132.88L131.56 113.2M131.56 113.2L201.29 156.7M47.2 115.24L131.56 95.56M131.56 95.56L201.29 139.06M47.2 97.6L131.56 77.92M131.56 77.92L201.29 121.42M47.2 79.96L131.56 60.28M131.56 60.28L201.29 103.78M47.2 62.32L131.56 42.64M131.56 42.64L201.29 86.14M47.2 135.82L131.56 116.14M131.56 116.14L201.29 159.64" stroke="#e0e0e0" stroke-width="0.7" fill="none"/><path d="M47.2 59.38L47.2 135.82L116.93 179.32L201.29 159.64M47.2 132.88L45 132.48M47.2 115.24L45 114.84M47.2 97.6L45 97.2M47.2 79.96L45 79.56M47.2 62.32L45 61.92M63.23 145.82L61.03 146.32M79.26 155.82L77.06 156.32M95.29 165.82L93.09 166.32M111.32 175.82L109.12 176.32M124.91 177.46L126.11 179.46M147.71 172.14L148.91 174.14M170.51 166.82L171.71 168.82M193.31 161.5L194.51 163.5" stroke="#262626" stroke-width="0.9" fill="none"/><g font-size="10" fill="#111" letter-spacing="0.25"><text x="40.2" y="136.28" text-anchor="end">−0.6</text><text x="40.2" y="118.64" text-anchor="end">−0.3</text><text x="40.2" y="101" text-anchor="end">0</text><text x="40.2" y="83.36" text-anchor="end">0.3</text><text x="40.2" y="65.72" text-anchor="end">0.6</text><text x="53.93" y="155.32" text-anchor="end">VV</text><text x="69.96" y="165.32" text-anchor="end">VH</text><text x="85.99" y="175.32" text-anchor="end">HV</text><text x="102.02" y="185.32" text-anchor="end">HH</text><text x="132.31" y="190.86">HH</text><text x="155.11" y="185.54">HV</text><text x="177.91" y="180.22">VH</text><text x="200.71" y="174.9">VV</text><text transform="translate(9.3 98) rotate(-90)" text-anchor="middle">Real(<tspan font-style="italic">ρ</tspan>)</text></g><g stroke="#1c1c1c" stroke-width="0.7" stroke-linejoin="round"><polygon points="126.02,59.34 137.24,66.34 137.24,95.74 126.02,88.74" fill="url(#g0)"/><polygon points="137.24,66.34 153.2,62.62 153.2,92.02 137.24,95.74" fill="url(#g1)"/><polygon points="126.02,59.34 141.98,55.62 153.2,62.62 137.24,66.34" fill="#3e64a7"/><polygon points="103.22,94.06 119.18,90.34 130.4,97.34 114.44,101.06" fill="#fff"/><polygon points="80.42,99.38 96.38,95.66 107.6,102.66 91.64,106.38" fill="#fff"/><polygon points="57.62,75.3 68.84,82.3 68.84,111.7 57.62,104.7" fill="url(#g2)"/><polygon points="68.84,82.3 84.8,78.58 84.8,107.98 68.84,111.7" fill="url(#g3)"/><polygon points="57.62,75.3 73.58,71.58 84.8,78.58 68.84,82.3" fill="#3e64a7"/><polygon points="142.05,98.74 158.01,95.02 169.23,102.02 153.27,105.74" fill="#fff"/><polygon points="119.25,104.06 135.21,100.34 146.43,107.34 130.47,111.06" fill="#fff"/><polygon points="96.45,109.38 112.41,105.66 123.63,112.66 107.67,116.38" fill="#fff"/><polygon points="73.65,114.7 89.61,110.98 100.83,117.98 84.87,121.7" fill="#fff"/><polygon points="158.08,108.74 174.04,105.02 185.26,112.02 169.3,115.74" fill="#fff"/><polygon points="135.28,114.06 151.24,110.34 162.46,117.34 146.5,121.06" fill="#fff"/><polygon points="112.48,119.38 128.44,115.66 139.66,122.66 123.7,126.38" fill="#fff"/><polygon points="89.68,124.7 105.64,120.98 116.86,127.98 100.9,131.7" fill="#fff"/><polygon points="174.11,89.34 185.33,96.34 185.33,125.74 174.11,118.74" fill="url(#g4)"/><polygon points="185.33,96.34 201.29,92.62 201.29,122.02 185.33,125.74" fill="url(#g5)"/><polygon points="174.11,89.34 190.07,85.62 201.29,92.62 185.33,96.34" fill="#3e64a7"/><polygon points="151.31,124.06 167.27,120.34 178.49,127.34 162.53,131.06" fill="#fff"/><polygon points="128.51,129.38 144.47,125.66 155.69,132.66 139.73,136.38" fill="#fff"/><polygon points="105.71,105.3 116.93,112.3 116.93,141.7 105.71,134.7" fill="url(#g6)"/><polygon points="116.93,112.3 132.89,108.58 132.89,137.98 116.93,141.7" fill="url(#g7)"/><polygon points="105.71,105.3 121.67,101.58 132.89,108.58 116.93,112.3" fill="#3e64a7"/></g></g>
<g><path d="M55.18 304.76L55.18 228.32M55.18 304.76L124.91 348.26M77.98 299.44L77.98 223M77.98 299.44L147.71 342.94M100.78 294.12L100.78 217.68M100.78 294.12L170.51 337.62M123.58 288.8L123.58 212.36M123.58 288.8L193.31 332.3M147.59 296.94L147.59 220.5M63.23 316.62L147.59 296.94M163.62 306.94L163.62 230.5M79.26 326.62L163.62 306.94M179.65 316.94L179.65 240.5M95.29 336.62L179.65 316.94M195.68 326.94L195.68 250.5M111.32 346.62L195.68 326.94M47.2 303.68L131.56 284M131.56 284L201.29 327.5M47.2 286.04L131.56 266.36M131.56 266.36L201.29 309.86M47.2 268.4L131.56 248.72M131.56 248.72L201.29 292.22M47.2 250.76L131.56 231.08M131.56 231.08L201.29 274.58M47.2 233.12L131.56 213.44M131.56 213.44L201.29 256.94M47.2 306.62L131.56 286.94M131.56 286.94L201.29 330.44" stroke="#e0e0e0" stroke-width="0.7" fill="none"/><path d="M47.2 230.18L47.2 306.62L116.93 350.12L201.29 330.44M47.2 303.68L45 303.28M47.2 286.04L45 285.64M47.2 268.4L45 268M47.2 250.76L45 250.36M47.2 233.12L45 232.72M63.23 316.62L61.03 317.12M79.26 326.62L77.06 327.12M95.29 336.62L93.09 337.12M111.32 346.62L109.12 347.12M124.91 348.26L126.11 350.26M147.71 342.94L148.91 344.94M170.51 337.62L171.71 339.62M193.31 332.3L194.51 334.3" stroke="#262626" stroke-width="0.9" fill="none"/><g font-size="10" fill="#111" letter-spacing="0.25"><text x="40.2" y="307.08" text-anchor="end">−0.6</text><text x="40.2" y="289.44" text-anchor="end">−0.3</text><text x="40.2" y="271.8" text-anchor="end">0</text><text x="40.2" y="254.16" text-anchor="end">0.3</text><text x="40.2" y="236.52" text-anchor="end">0.6</text><text x="53.93" y="326.12" text-anchor="end">VV</text><text x="69.96" y="336.12" text-anchor="end">VH</text><text x="85.99" y="346.12" text-anchor="end">HV</text><text x="102.02" y="356.12" text-anchor="end">HH</text><text x="132.31" y="361.66">HH</text><text x="155.11" y="356.34">HV</text><text x="177.91" y="351.02">VH</text><text x="200.71" y="345.7">VV</text><text transform="translate(9.3 268.8) rotate(-90)" text-anchor="middle">Real(<tspan font-style="italic">ρ</tspan>)</text></g><g stroke="#1c1c1c" stroke-width="0.7" stroke-linejoin="round"><polygon points="126.02,259.54 137.24,266.54 137.24,295.94 126.02,288.94" fill="url(#g8)"/><polygon points="137.24,266.54 153.2,262.82 153.2,292.22 137.24,295.94" fill="url(#g9)"/><polygon points="126.02,259.54 141.98,255.82 153.2,262.82 137.24,266.54" fill="#ffffff"/><polygon points="103.22,264.86 119.18,261.14 130.4,268.14 114.44,271.86" fill="#fff"/><polygon points="80.42,270.18 96.38,266.46 107.6,273.46 91.64,277.18" fill="#fff"/><polygon points="57.62,246.1 68.84,253.1 68.84,282.5 57.62,275.5" fill="url(#g10)"/><polygon points="68.84,253.1 84.8,249.38 84.8,278.78 68.84,282.5" fill="url(#g11)"/><polygon points="57.62,246.1 73.58,242.38 84.8,249.38 68.84,253.1" fill="#3e64a7"/><polygon points="142.05,269.54 158.01,265.82 169.23,272.82 153.27,276.54" fill="#fff"/><polygon points="119.25,274.86 135.21,271.14 146.43,278.14 130.47,281.86" fill="#fff"/><polygon points="96.45,280.18 112.41,276.46 123.63,283.46 107.67,287.18" fill="#fff"/><polygon points="73.65,285.5 89.61,281.78 100.83,288.78 84.87,292.5" fill="#fff"/><polygon points="158.08,279.54 174.04,275.82 185.26,282.82 169.3,286.54" fill="#fff"/><polygon points="135.28,284.86 151.24,281.14 162.46,288.14 146.5,291.86" fill="#fff"/><polygon points="112.48,290.18 128.44,286.46 139.66,293.46 123.7,297.18" fill="#fff"/><polygon points="89.68,295.5 105.64,291.78 116.86,298.78 100.9,302.5" fill="#fff"/><polygon points="174.11,260.14 185.33,267.14 185.33,296.54 174.11,289.54" fill="url(#g12)"/><polygon points="185.33,267.14 201.29,263.42 201.29,292.82 185.33,296.54" fill="url(#g13)"/><polygon points="174.11,260.14 190.07,256.42 201.29,263.42 185.33,267.14" fill="#3e64a7"/><polygon points="151.31,294.86 167.27,291.14 178.49,298.14 162.53,301.86" fill="#fff"/><polygon points="128.51,300.18 144.47,296.46 155.69,303.46 139.73,307.18" fill="#fff"/><polygon points="105.71,305.5 116.93,312.5 116.93,341.9 105.71,334.9" fill="url(#g14)"/><polygon points="116.93,312.5 132.89,308.78 132.89,338.18 116.93,341.9" fill="url(#g15)"/><polygon points="105.71,305.5 121.67,301.78 132.89,308.78 116.93,312.5" fill="#ffffff"/></g></g>
<g><path d="M55.18 474.76L55.18 398.32M55.18 474.76L124.91 518.26M77.98 469.44L77.98 393M77.98 469.44L147.71 512.94M100.78 464.12L100.78 387.68M100.78 464.12L170.51 507.62M123.58 458.8L123.58 382.36M123.58 458.8L193.31 502.3M147.59 466.94L147.59 390.5M63.23 486.62L147.59 466.94M163.62 476.94L163.62 400.5M79.26 496.62L163.62 476.94M179.65 486.94L179.65 410.5M95.29 506.62L179.65 486.94M195.68 496.94L195.68 420.5M111.32 516.62L195.68 496.94M47.2 473.68L131.56 454M131.56 454L201.29 497.5M47.2 456.04L131.56 436.36M131.56 436.36L201.29 479.86M47.2 438.4L131.56 418.72M131.56 418.72L201.29 462.22M47.2 420.76L131.56 401.08M131.56 401.08L201.29 444.58M47.2 403.12L131.56 383.44M131.56 383.44L201.29 426.94M47.2 476.62L131.56 456.94M131.56 456.94L201.29 500.44" stroke="#e0e0e0" stroke-width="0.7" fill="none"/><path d="M47.2 400.18L47.2 476.62L116.93 520.12L201.29 500.44M47.2 473.68L45 473.28M47.2 456.04L45 455.64M47.2 438.4L45 438M47.2 420.76L45 420.36M47.2 403.12L45 402.72M63.23 486.62L61.03 487.12M79.26 496.62L77.06 497.12M95.29 506.62L93.09 507.12M111.32 516.62L109.12 517.12M124.91 518.26L126.11 520.26M147.71 512.94L148.91 514.94M170.51 507.62L171.71 509.62M193.31 502.3L194.51 504.3" stroke="#262626" stroke-width="0.9" fill="none"/><g font-size="10" fill="#111" letter-spacing="0.25"><text x="40.2" y="477.08" text-anchor="end">−0.6</text><text x="40.2" y="459.44" text-anchor="end">−0.3</text><text x="40.2" y="441.8" text-anchor="end">0</text><text x="40.2" y="424.16" text-anchor="end">0.3</text><text x="40.2" y="406.52" text-anchor="end">0.6</text><text x="53.93" y="496.12" text-anchor="end">VV</text><text x="69.96" y="506.12" text-anchor="end">VH</text><text x="85.99" y="516.12" text-anchor="end">HV</text><text x="102.02" y="526.12" text-anchor="end">HH</text><text x="132.31" y="531.66">HH</text><text x="155.11" y="526.34">HV</text><text x="177.91" y="521.02">VH</text><text x="200.71" y="515.7">VV</text><text transform="translate(9.3 438.8) rotate(-90)" text-anchor="middle">Real(<tspan font-style="italic">ρ</tspan>)</text></g><g stroke="#1c1c1c" stroke-width="0.7" stroke-linejoin="round"><polygon points="126.02,429.54 141.98,425.82 153.2,432.82 137.24,436.54" fill="#fff"/><polygon points="103.22,434.86 119.18,431.14 130.4,438.14 114.44,441.86" fill="#fff"/><polygon points="80.42,440.18 96.38,436.46 107.6,443.46 91.64,447.18" fill="#fff"/><polygon points="57.62,445.5 73.58,441.78 84.8,448.78 68.84,452.5" fill="#fff"/><polygon points="142.05,439.54 158.01,435.82 169.23,442.82 153.27,446.54" fill="#fff"/><polygon points="119.25,415.46 130.47,422.46 130.47,451.86 119.25,444.86" fill="url(#g16)"/><polygon points="130.47,422.46 146.43,418.74 146.43,448.14 130.47,451.86" fill="url(#g17)"/><polygon points="119.25,415.46 135.21,411.74 146.43,418.74 130.47,422.46" fill="#3e64a7"/><polygon points="96.45,420.78 107.67,427.78 107.67,457.18 96.45,450.18" fill="url(#g18)"/><polygon points="107.67,427.78 123.63,424.06 123.63,453.46 107.67,457.18" fill="url(#g19)"/><polygon points="96.45,420.78 112.41,417.06 123.63,424.06 107.67,427.78" fill="#3e64a7"/><polygon points="73.65,455.5 89.61,451.78 100.83,458.78 84.87,462.5" fill="#fff"/><polygon points="158.08,449.54 174.04,445.82 185.26,452.82 169.3,456.54" fill="#fff"/><polygon points="135.28,425.46 146.5,432.46 146.5,461.86 135.28,454.86" fill="url(#g20)"/><polygon points="146.5,432.46 162.46,428.74 162.46,458.14 146.5,461.86" fill="url(#g21)"/><polygon points="135.28,425.46 151.24,421.74 162.46,428.74 146.5,432.46" fill="#3e64a7"/><polygon points="112.48,430.78 123.7,437.78 123.7,467.18 112.48,460.18" fill="url(#g22)"/><polygon points="123.7,437.78 139.66,434.06 139.66,463.46 123.7,467.18" fill="url(#g23)"/><polygon points="112.48,430.78 128.44,427.06 139.66,434.06 123.7,437.78" fill="#3e64a7"/><polygon points="89.68,465.5 105.64,461.78 116.86,468.78 100.9,472.5" fill="#fff"/><polygon points="174.11,459.54 190.07,455.82 201.29,462.82 185.33,466.54" fill="#fff"/><polygon points="151.31,464.86 167.27,461.14 178.49,468.14 162.53,471.86" fill="#fff"/><polygon points="128.51,470.18 144.47,466.46 155.69,473.46 139.73,477.18" fill="#fff"/><polygon points="105.71,475.5 121.67,471.78 132.89,478.78 116.93,482.5" fill="#fff"/></g><path d="M101.4 418.2L101.4 423.4Q101.4 425 103 425L107.5 425Q109.1 425 109.1 423.4L109.1 416.3Z" fill="#fff"/><path d="M101.4 418.9L101.4 423.4Q101.4 425 103 425L107.5 425Q109.1 425 109.1 423.4L109.1 417.2" fill="none" stroke="#1c1c1c" stroke-width="0.7"/></g>
<g><path d="M55.18 648.46L55.18 572.02M55.18 648.46L124.91 691.96M77.98 643.14L77.98 566.7M77.98 643.14L147.71 686.64M100.78 637.82L100.78 561.38M100.78 637.82L170.51 681.32M123.58 632.5L123.58 556.06M123.58 632.5L193.31 676M147.59 640.64L147.59 564.2M63.23 660.32L147.59 640.64M163.62 650.64L163.62 574.2M79.26 670.32L163.62 650.64M179.65 660.64L179.65 584.2M95.29 680.32L179.65 660.64M195.68 670.64L195.68 594.2M111.32 690.32L195.68 670.64M47.2 647.38L131.56 627.7M131.56 627.7L201.29 671.2M47.2 629.74L131.56 610.06M131.56 610.06L201.29 653.56M47.2 612.1L131.56 592.42M131.56 592.42L201.29 635.92M47.2 594.46L131.56 574.78M131.56 574.78L201.29 618.28M47.2 576.82L131.56 557.14M131.56 557.14L201.29 600.64M47.2 650.32L131.56 630.64M131.56 630.64L201.29 674.14" stroke="#e0e0e0" stroke-width="0.7" fill="none"/><path d="M47.2 573.88L47.2 650.32L116.93 693.82L201.29 674.14M47.2 647.38L45 646.98M47.2 629.74L45 629.34M47.2 612.1L45 611.7M47.2 594.46L45 594.06M47.2 576.82L45 576.42M63.23 660.32L61.03 660.82M79.26 670.32L77.06 670.82M95.29 680.32L93.09 680.82M111.32 690.32L109.12 690.82M124.91 691.96L126.11 693.96M147.71 686.64L148.91 688.64M170.51 681.32L171.71 683.32M193.31 676L194.51 678" stroke="#262626" stroke-width="0.9" fill="none"/><g font-size="10" fill="#111" letter-spacing="0.25"><text x="40.2" y="650.78" text-anchor="end">−0.6</text><text x="40.2" y="633.14" text-anchor="end">−0.3</text><text x="40.2" y="615.5" text-anchor="end">0</text><text x="40.2" y="597.86" text-anchor="end">0.3</text><text x="40.2" y="580.22" text-anchor="end">0.6</text><text x="53.93" y="669.82" text-anchor="end">VV</text><text x="69.96" y="679.82" text-anchor="end">VH</text><text x="85.99" y="689.82" text-anchor="end">HV</text><text x="102.02" y="699.82" text-anchor="end">HH</text><text x="132.31" y="705.36">HH</text><text x="155.11" y="700.04">HV</text><text x="177.91" y="694.72">VH</text><text x="200.71" y="689.4">VV</text><text transform="translate(9.3 612.5) rotate(-90)" text-anchor="middle">Real(<tspan font-style="italic">ρ</tspan>)</text></g><g stroke="#1c1c1c" stroke-width="0.7" stroke-linejoin="round"><polygon points="126.02,603.24 141.98,599.52 153.2,606.52 137.24,610.24" fill="#fff"/><polygon points="103.22,608.56 119.18,604.84 130.4,611.84 114.44,615.56" fill="#fff"/><polygon points="80.42,613.88 96.38,610.16 107.6,617.16 91.64,620.88" fill="#fff"/><polygon points="57.62,619.2 73.58,615.48 84.8,622.48 68.84,626.2" fill="#fff"/><polygon points="142.05,613.24 158.01,609.52 169.23,616.52 153.27,620.24" fill="#fff"/><polygon points="119.25,618.56 130.47,625.56 130.47,654.96 119.25,647.96" fill="url(#g24)"/><polygon points="130.47,625.56 146.43,621.84 146.43,651.24 130.47,654.96" fill="url(#g25)"/><polygon points="119.25,618.56 135.21,614.84 146.43,621.84 130.47,625.56" fill="#ffffff"/><polygon points="96.45,594.48 107.67,601.48 107.67,630.88 96.45,623.88" fill="url(#g26)"/><polygon points="107.67,601.48 123.63,597.76 123.63,627.16 107.67,630.88" fill="url(#g27)"/><polygon points="96.45,594.48 112.41,590.76 123.63,597.76 107.67,601.48" fill="#3e64a7"/><polygon points="73.65,629.2 89.61,625.48 100.83,632.48 84.87,636.2" fill="#fff"/><polygon points="158.08,623.24 174.04,619.52 185.26,626.52 169.3,630.24" fill="#fff"/><polygon points="135.28,599.16 146.5,606.16 146.5,635.56 135.28,628.56" fill="url(#g28)"/><polygon points="146.5,606.16 162.46,602.44 162.46,631.84 146.5,635.56" fill="url(#g29)"/><polygon points="135.28,599.16 151.24,595.44 162.46,602.44 146.5,606.16" fill="#3e64a7"/><polygon points="112.48,633.88 123.7,640.88 123.7,670.28 112.48,663.28" fill="url(#g30)"/><polygon points="123.7,640.88 139.66,637.16 139.66,666.56 123.7,670.28" fill="url(#g31)"/><polygon points="112.48,633.88 128.44,630.16 139.66,637.16 123.7,640.88" fill="#ffffff"/><polygon points="89.68,639.2 105.64,635.48 116.86,642.48 100.9,646.2" fill="#fff"/><polygon points="174.11,633.24 190.07,629.52 201.29,636.52 185.33,640.24" fill="#fff"/><polygon points="151.31,638.56 167.27,634.84 178.49,641.84 162.53,645.56" fill="#fff"/><polygon points="128.51,643.88 144.47,640.16 155.69,647.16 139.73,650.88" fill="#fff"/><polygon points="105.71,649.2 121.67,645.48 132.89,652.48 116.93,656.2" fill="#fff"/></g></g>
<g><path d="M285.58 133.96L285.58 57.52M285.58 133.96L355.31 177.46M308.38 128.64L308.38 52.2M308.38 128.64L378.11 172.14M331.18 123.32L331.18 46.88M331.18 123.32L400.91 166.82M353.98 118L353.98 41.56M353.98 118L423.71 161.5M377.99 126.14L377.99 49.7M293.63 145.82L377.99 126.14M394.02 136.14L394.02 59.7M309.66 155.82L394.02 136.14M410.05 146.14L410.05 69.7M325.69 165.82L410.05 146.14M426.08 156.14L426.08 79.7M341.72 175.82L426.08 156.14M277.6 132.88L361.96 113.2M361.96 113.2L431.69 156.7M277.6 115.24L361.96 95.56M361.96 95.56L431.69 139.06M277.6 97.6L361.96 77.92M361.96 77.92L431.69 121.42M277.6 79.96L361.96 60.28M361.96 60.28L431.69 103.78M277.6 62.32L361.96 42.64M361.96 42.64L431.69 86.14M277.6 135.82L361.96 116.14M361.96 116.14L431.69 159.64" stroke="#e0e0e0" stroke-width="0.7" fill="none"/><path d="M277.6 59.38L277.6 135.82L347.33 179.32L431.69 159.64M277.6 132.88L275.4 132.48M277.6 115.24L275.4 114.84M277.6 97.6L275.4 97.2M277.6 79.96L275.4 79.56M277.6 62.32L275.4 61.92M293.63 145.82L291.43 146.32M309.66 155.82L307.46 156.32M325.69 165.82L323.49 166.32M341.72 175.82L339.52 176.32M355.31 177.46L356.51 179.46M378.11 172.14L379.31 174.14M400.91 166.82L402.11 168.82M423.71 161.5L424.91 163.5" stroke="#262626" stroke-width="0.9" fill="none"/><g font-size="10" fill="#111" letter-spacing="0.25"><text x="270.6" y="136.28" text-anchor="end">−0.6</text><text x="270.6" y="118.64" text-anchor="end">−0.3</text><text x="270.6" y="101" text-anchor="end">0</text><text x="270.6" y="83.36" text-anchor="end">0.3</text><text x="270.6" y="65.72" text-anchor="end">0.6</text><text x="284.33" y="155.32" text-anchor="end">VV</text><text x="300.36" y="165.32" text-anchor="end">VH</text><text x="316.39" y="175.32" text-anchor="end">HV</text><text x="332.42" y="185.32" text-anchor="end">HH</text><text x="362.71" y="190.86">HH</text><text x="385.51" y="185.54">HV</text><text x="408.31" y="180.22">VH</text><text x="431.11" y="174.9">VV</text><text transform="translate(239.7 98) rotate(-90)" text-anchor="middle">Real(<tspan font-style="italic">ρ</tspan>)</text></g><g stroke="#1c1c1c" stroke-width="0.7" stroke-linejoin="round"><polygon points="356.42,88.74 367.64,95.74 367.64,123.08 356.42,116.08" fill="url(#g32)"/><polygon points="367.64,95.74 383.6,92.02 383.6,119.36 367.64,123.08" fill="url(#g33)"/><polygon points="356.42,88.74 372.38,85.02 383.6,92.02 367.64,95.74" fill="#ffffff"/><polygon points="333.62,94.06 344.84,101.06 344.84,103.71 333.62,96.71" fill="url(#g34)"/><polygon points="344.84,101.06 360.8,97.34 360.8,99.98 344.84,103.71" fill="url(#g35)"/><polygon points="333.62,94.06 349.58,90.34 360.8,97.34 344.84,101.06" fill="#ffffff"/><polygon points="310.82,99.38 322.04,106.38 322.04,110.5 310.82,103.5" fill="url(#g36)"/><polygon points="322.04,106.38 338,102.66 338,106.77 322.04,110.5" fill="url(#g37)"/><polygon points="310.82,99.38 326.78,95.66 338,102.66 322.04,106.38" fill="#ffffff"/><polygon points="288.02,83.41 299.24,90.41 299.24,111.7 288.02,104.7" fill="url(#g38)"/><polygon points="299.24,90.41 315.2,86.69 315.2,107.98 299.24,111.7" fill="url(#g39)"/><polygon points="288.02,83.41 303.98,79.69 315.2,86.69 299.24,90.41" fill="#738fbf"/><polygon points="372.45,93.62 383.67,100.62 383.67,105.74 372.45,98.74" fill="url(#g40)"/><polygon points="383.67,100.62 399.63,96.9 399.63,102.02 383.67,105.74" fill="url(#g41)"/><polygon points="372.45,93.62 388.41,89.9 399.63,96.9 383.67,100.62" fill="#dde4f0"/><polygon points="349.65,102.88 360.87,109.88 360.87,111.06 349.65,104.06" fill="url(#g42)"/><polygon points="360.87,109.88 376.83,106.16 376.83,107.34 360.87,111.06" fill="url(#g43)"/><polygon points="349.65,102.88 365.61,99.16 376.83,106.16 360.87,109.88" fill="#f7f9fb"/><polygon points="326.85,109.38 338.07,116.38 338.07,117.26 326.85,110.26" fill="url(#g44)"/><polygon points="338.07,116.38 354.03,112.66 354.03,113.54 338.07,117.26" fill="url(#g45)"/><polygon points="326.85,109.38 342.81,105.66 354.03,112.66 338.07,116.38" fill="#ffffff"/><polygon points="304.05,114.7 315.27,121.7 315.27,125.82 304.05,118.82" fill="url(#g46)"/><polygon points="315.27,121.7 331.23,117.98 331.23,122.09 315.27,125.82" fill="url(#g47)"/><polygon points="304.05,114.7 320.01,110.98 331.23,117.98 315.27,121.7" fill="#ffffff"/><polygon points="388.48,104.33 399.7,111.33 399.7,115.74 388.48,108.74" fill="url(#g48)"/><polygon points="399.7,111.33 415.66,107.61 415.66,112.02 399.7,115.74" fill="url(#g49)"/><polygon points="388.48,104.33 404.44,100.61 415.66,107.61 399.7,111.33" fill="#e2e8f2"/><polygon points="365.68,112.88 376.9,119.88 376.9,121.06 365.68,114.06" fill="url(#g50)"/><polygon points="376.9,119.88 392.86,116.16 392.86,117.34 376.9,121.06" fill="url(#g51)"/><polygon points="365.68,112.88 381.64,109.16 392.86,116.16 376.9,119.88" fill="#f7f9fb"/><polygon points="342.88,119.38 354.1,126.38 354.1,127.26 342.88,120.26" fill="url(#g52)"/><polygon points="354.1,126.38 370.06,122.66 370.06,123.54 354.1,127.26" fill="url(#g53)"/><polygon points="342.88,119.38 358.84,115.66 370.06,122.66 354.1,126.38" fill="#ffffff"/><polygon points="320.08,124.7 331.3,131.7 331.3,135.23 320.08,128.23" fill="url(#g54)"/><polygon points="331.3,131.7 347.26,127.98 347.26,131.5 331.3,135.23" fill="url(#g55)"/><polygon points="320.08,124.7 336.04,120.98 347.26,127.98 331.3,131.7" fill="#ffffff"/><polygon points="404.51,82.87 415.73,89.87 415.73,125.74 404.51,118.74" fill="url(#g56)"/><polygon points="415.73,89.87 431.69,86.15 431.69,122.02 415.73,125.74" fill="url(#g57)"/><polygon points="404.51,82.87 420.47,79.15 431.69,86.15 415.73,89.87" fill="#123e8e"/><polygon points="381.71,121.12 392.93,128.12 392.93,131.06 381.71,124.06" fill="url(#g58)"/><polygon points="392.93,128.12 408.89,124.4 408.89,127.34 392.93,131.06" fill="url(#g59)"/><polygon points="381.71,121.12 397.67,117.4 408.89,124.4 392.93,128.12" fill="#ecf0f6"/><polygon points="358.91,125.26 370.13,132.26 370.13,136.38 358.91,129.38" fill="url(#g60)"/><polygon points="370.13,132.26 386.09,128.54 386.09,132.66 370.13,136.38" fill="url(#g61)"/><polygon points="358.91,125.26 374.87,121.54 386.09,128.54 370.13,132.26" fill="#e4e9f3"/><polygon points="336.11,134.7 347.33,141.7 347.33,169.63 336.11,162.63" fill="url(#g62)"/><polygon points="347.33,141.7 363.29,137.98 363.29,165.91 347.33,169.63" fill="url(#g63)"/><polygon points="336.11,134.7 352.07,130.98 363.29,137.98 347.33,141.7" fill="#ffffff"/></g></g>
<g><path d="M285.58 304.76L285.58 228.32M285.58 304.76L355.31 348.26M308.38 299.44L308.38 223M308.38 299.44L378.11 342.94M331.18 294.12L331.18 217.68M331.18 294.12L400.91 337.62M353.98 288.8L353.98 212.36M353.98 288.8L423.71 332.3M377.99 296.94L377.99 220.5M293.63 316.62L377.99 296.94M394.02 306.94L394.02 230.5M309.66 326.62L394.02 306.94M410.05 316.94L410.05 240.5M325.69 336.62L410.05 316.94M426.08 326.94L426.08 250.5M341.72 346.62L426.08 326.94M277.6 303.68L361.96 284M361.96 284L431.69 327.5M277.6 286.04L361.96 266.36M361.96 266.36L431.69 309.86M277.6 268.4L361.96 248.72M361.96 248.72L431.69 292.22M277.6 250.76L361.96 231.08M361.96 231.08L431.69 274.58M277.6 233.12L361.96 213.44M361.96 213.44L431.69 256.94M277.6 306.62L361.96 286.94M361.96 286.94L431.69 330.44" stroke="#e0e0e0" stroke-width="0.7" fill="none"/><path d="M277.6 230.18L277.6 306.62L347.33 350.12L431.69 330.44M277.6 303.68L275.4 303.28M277.6 286.04L275.4 285.64M277.6 268.4L275.4 268M277.6 250.76L275.4 250.36M277.6 233.12L275.4 232.72M293.63 316.62L291.43 317.12M309.66 326.62L307.46 327.12M325.69 336.62L323.49 337.12M341.72 346.62L339.52 347.12M355.31 348.26L356.51 350.26M378.11 342.94L379.31 344.94M400.91 337.62L402.11 339.62M423.71 332.3L424.91 334.3" stroke="#262626" stroke-width="0.9" fill="none"/><g font-size="10" fill="#111" letter-spacing="0.25"><text x="270.6" y="307.08" text-anchor="end">−0.6</text><text x="270.6" y="289.44" text-anchor="end">−0.3</text><text x="270.6" y="271.8" text-anchor="end">0</text><text x="270.6" y="254.16" text-anchor="end">0.3</text><text x="270.6" y="236.52" text-anchor="end">0.6</text><text x="284.33" y="326.12" text-anchor="end">VV</text><text x="300.36" y="336.12" text-anchor="end">VH</text><text x="316.39" y="346.12" text-anchor="end">HV</text><text x="332.42" y="356.12" text-anchor="end">HH</text><text x="362.71" y="361.66">HH</text><text x="385.51" y="356.34">HV</text><text x="408.31" y="351.02">VH</text><text x="431.11" y="345.7">VV</text><text transform="translate(239.7 268.8) rotate(-90)" text-anchor="middle">Real(<tspan font-style="italic">ρ</tspan>)</text></g><g stroke="#1c1c1c" stroke-width="0.7" stroke-linejoin="round"><polygon points="356.42,259.54 367.64,266.54 367.64,293 356.42,286" fill="url(#g64)"/><polygon points="367.64,266.54 383.6,262.82 383.6,289.28 367.64,293" fill="url(#g65)"/><polygon points="356.42,259.54 372.38,255.82 383.6,262.82 367.64,266.54" fill="#ffffff"/><polygon points="333.62,260.57 344.84,267.57 344.84,271.86 333.62,264.86" fill="url(#g66)"/><polygon points="344.84,267.57 360.8,263.84 360.8,268.14 344.84,271.86" fill="url(#g67)"/><polygon points="333.62,260.57 349.58,256.84 360.8,263.84 344.84,267.57" fill="#e3e8f2"/><polygon points="310.82,264.48 322.04,271.48 322.04,277.18 310.82,270.18" fill="url(#g68)"/><polygon points="322.04,271.48 338,267.75 338,273.46 322.04,277.18" fill="url(#g69)"/><polygon points="310.82,264.48 326.78,260.75 338,267.75 322.04,271.48" fill="#dae1ee"/><polygon points="288.02,254.33 299.24,261.33 299.24,282.5 288.02,275.5" fill="url(#g70)"/><polygon points="299.24,261.33 315.2,257.61 315.2,278.78 299.24,282.5" fill="url(#g71)"/><polygon points="288.02,254.33 303.98,250.61 315.2,257.61 299.24,261.33" fill="#748fc0"/><polygon points="372.45,269.54 383.67,276.54 383.67,280.66 372.45,273.66" fill="url(#g72)"/><polygon points="383.67,276.54 399.63,272.82 399.63,276.93 383.67,280.66" fill="url(#g73)"/><polygon points="372.45,269.54 388.41,265.82 399.63,272.82 383.67,276.54" fill="#ffffff"/><polygon points="349.65,273.68 360.87,280.68 360.87,281.86 349.65,274.86" fill="url(#g74)"/><polygon points="360.87,280.68 376.83,276.96 376.83,278.14 360.87,281.86" fill="url(#g75)"/><polygon points="349.65,273.68 365.61,269.96 376.83,276.96 360.87,280.68" fill="#f7f9fb"/><polygon points="326.85,279 338.07,286 338.07,287.18 326.85,280.18" fill="url(#g76)"/><polygon points="338.07,286 354.03,282.28 354.03,283.46 338.07,287.18" fill="url(#g77)"/><polygon points="326.85,279 342.81,275.28 354.03,282.28 338.07,286" fill="#f7f9fb"/><polygon points="304.05,280.33 315.27,287.33 315.27,292.5 304.05,285.5" fill="url(#g78)"/><polygon points="315.27,287.33 331.23,283.6 331.23,288.78 315.27,292.5" fill="url(#g79)"/><polygon points="304.05,280.33 320.01,276.6 331.23,283.6 315.27,287.33" fill="#dde4f0"/><polygon points="388.48,279.54 399.7,286.54 399.7,291.83 388.48,284.83" fill="url(#g80)"/><polygon points="399.7,286.54 415.66,282.82 415.66,288.11 399.7,291.83" fill="url(#g81)"/><polygon points="388.48,279.54 404.44,275.82 415.66,282.82 399.7,286.54" fill="#ffffff"/><polygon points="365.68,283.98 376.9,290.98 376.9,291.86 365.68,284.86" fill="url(#g82)"/><polygon points="376.9,290.98 392.86,287.25 392.86,288.14 376.9,291.86" fill="url(#g83)"/><polygon points="365.68,283.98 381.64,280.25 392.86,287.25 376.9,290.98" fill="#f9fafc"/><polygon points="342.88,289.59 354.1,296.59 354.1,297.18 342.88,290.18" fill="url(#g84)"/><polygon points="354.1,296.59 370.06,292.87 370.06,293.46 354.1,297.18" fill="url(#g85)"/><polygon points="342.88,289.59 358.84,285.87 370.06,292.87 354.1,296.59" fill="#fbfcfd"/><polygon points="320.08,292.09 331.3,299.09 331.3,302.5 320.08,295.5" fill="url(#g86)"/><polygon points="331.3,299.09 347.26,295.37 347.26,298.78 331.3,302.5" fill="url(#g87)"/><polygon points="320.08,292.09 336.04,288.37 347.26,295.37 331.3,299.09" fill="#e9edf5"/><polygon points="404.51,255.44 415.73,262.44 415.73,296.54 404.51,289.54" fill="url(#g88)"/><polygon points="415.73,262.44 431.69,258.71 431.69,292.82 415.73,296.54" fill="url(#g89)"/><polygon points="404.51,255.44 420.47,251.71 431.69,258.71 415.73,262.44" fill="#1c4795"/><polygon points="381.71,294.86 392.93,301.86 392.93,306.56 381.71,299.56" fill="url(#g90)"/><polygon points="392.93,301.86 408.89,298.14 408.89,302.84 392.93,306.56" fill="url(#g91)"/><polygon points="381.71,294.86 397.67,291.14 408.89,298.14 392.93,301.86" fill="#ffffff"/><polygon points="358.91,300.18 370.13,307.18 370.13,315.29 358.91,308.29" fill="url(#g92)"/><polygon points="370.13,307.18 386.09,303.46 386.09,311.57 370.13,315.29" fill="url(#g93)"/><polygon points="358.91,300.18 374.87,296.46 386.09,303.46 370.13,307.18" fill="#ffffff"/><polygon points="336.11,305.5 347.33,312.5 347.33,339.55 336.11,332.55" fill="url(#g94)"/><polygon points="347.33,312.5 363.29,308.78 363.29,335.82 347.33,339.55" fill="url(#g95)"/><polygon points="336.11,305.5 352.07,301.78 363.29,308.78 347.33,312.5" fill="#ffffff"/></g></g>
<g><path d="M285.58 474.76L285.58 398.32M285.58 474.76L355.31 518.26M308.38 469.44L308.38 393M308.38 469.44L378.11 512.94M331.18 464.12L331.18 387.68M331.18 464.12L400.91 507.62M353.98 458.8L353.98 382.36M353.98 458.8L423.71 502.3M377.99 466.94L377.99 390.5M293.63 486.62L377.99 466.94M394.02 476.94L394.02 400.5M309.66 496.62L394.02 476.94M410.05 486.94L410.05 410.5M325.69 506.62L410.05 486.94M426.08 496.94L426.08 420.5M341.72 516.62L426.08 496.94M277.6 473.68L361.96 454M361.96 454L431.69 497.5M277.6 456.04L361.96 436.36M361.96 436.36L431.69 479.86M277.6 438.4L361.96 418.72M361.96 418.72L431.69 462.22M277.6 420.76L361.96 401.08M361.96 401.08L431.69 444.58M277.6 403.12L361.96 383.44M361.96 383.44L431.69 426.94M277.6 476.62L361.96 456.94M361.96 456.94L431.69 500.44" stroke="#e0e0e0" stroke-width="0.7" fill="none"/><path d="M277.6 400.18L277.6 476.62L347.33 520.12L431.69 500.44M277.6 473.68L275.4 473.28M277.6 456.04L275.4 455.64M277.6 438.4L275.4 438M277.6 420.76L275.4 420.36M277.6 403.12L275.4 402.72M293.63 486.62L291.43 487.12M309.66 496.62L307.46 497.12M325.69 506.62L323.49 507.12M341.72 516.62L339.52 517.12M355.31 518.26L356.51 520.26M378.11 512.94L379.31 514.94M400.91 507.62L402.11 509.62M423.71 502.3L424.91 504.3" stroke="#262626" stroke-width="0.9" fill="none"/><g font-size="10" fill="#111" letter-spacing="0.25"><text x="270.6" y="477.08" text-anchor="end">−0.6</text><text x="270.6" y="459.44" text-anchor="end">−0.3</text><text x="270.6" y="441.8" text-anchor="end">0</text><text x="270.6" y="424.16" text-anchor="end">0.3</text><text x="270.6" y="406.52" text-anchor="end">0.6</text><text x="284.33" y="496.12" text-anchor="end">VV</text><text x="300.36" y="506.12" text-anchor="end">VH</text><text x="316.39" y="516.12" text-anchor="end">HV</text><text x="332.42" y="526.12" text-anchor="end">HH</text><text x="362.71" y="531.66">HH</text><text x="385.51" y="526.34">HV</text><text x="408.31" y="521.02">VH</text><text x="431.11" y="515.7">VV</text><text transform="translate(239.7 438.8) rotate(-90)" text-anchor="middle">Real(<tspan font-style="italic">ρ</tspan>)</text></g><g stroke="#1c1c1c" stroke-width="0.7" stroke-linejoin="round"><polygon points="356.42,429.54 367.64,436.54 367.64,437.72 356.42,430.72" fill="url(#g96)"/><polygon points="367.64,436.54 383.6,432.82 383.6,433.99 367.64,437.72" fill="url(#g97)"/><polygon points="356.42,429.54 372.38,425.82 383.6,432.82 367.64,436.54" fill="#ffffff"/><polygon points="333.62,434.86 349.58,431.14 360.8,438.14 344.84,441.86" fill="#fff"/><polygon points="310.82,440.18 322.04,447.18 322.04,452.18 310.82,445.18" fill="url(#g98)"/><polygon points="322.04,447.18 338,443.46 338,448.45 322.04,452.18" fill="url(#g99)"/><polygon points="310.82,440.18 326.78,436.46 338,443.46 322.04,447.18" fill="#ffffff"/><polygon points="288.02,444.32 299.24,451.32 299.24,452.5 288.02,445.5" fill="url(#g100)"/><polygon points="299.24,451.32 315.2,447.6 315.2,448.78 299.24,452.5" fill="url(#g101)"/><polygon points="288.02,444.32 303.98,440.6 315.2,447.6 299.24,451.32" fill="#f7f9fb"/><polygon points="372.45,431.19 383.67,438.19 383.67,446.54 372.45,439.54" fill="url(#g102)"/><polygon points="383.67,438.19 399.63,434.47 399.63,442.82 383.67,446.54" fill="url(#g103)"/><polygon points="372.45,431.19 388.41,427.47 399.63,434.47 383.67,438.19" fill="#c8d3e6"/><polygon points="349.65,416.75 360.87,423.75 360.87,451.86 349.65,444.86" fill="url(#g104)"/><polygon points="360.87,423.75 376.83,420.03 376.83,448.14 360.87,451.86" fill="url(#g105)"/><polygon points="349.65,416.75 365.61,413.03 376.83,420.03 360.87,423.75" fill="#466bab"/><polygon points="326.85,415.19 338.07,422.19 338.07,457.18 326.85,450.18" fill="url(#g106)"/><polygon points="338.07,422.19 354.03,418.47 354.03,453.46 338.07,457.18" fill="url(#g107)"/><polygon points="326.85,415.19 342.81,411.47 354.03,418.47 338.07,422.19" fill="#164291"/><polygon points="304.05,455.5 315.27,462.5 315.27,467.79 304.05,460.79" fill="url(#g108)"/><polygon points="315.27,462.5 331.23,458.78 331.23,464.07 315.27,467.79" fill="url(#g109)"/><polygon points="304.05,455.5 320.01,451.78 331.23,458.78 315.27,462.5" fill="#ffffff"/><polygon points="388.48,443.19 399.7,450.19 399.7,456.54 388.48,449.54" fill="url(#g110)"/><polygon points="399.7,450.19 415.66,446.47 415.66,452.82 399.7,456.54" fill="url(#g111)"/><polygon points="388.48,443.19 404.44,439.47 415.66,446.47 399.7,450.19" fill="#d5deec"/><polygon points="365.68,432.87 376.9,439.87 376.9,461.86 365.68,454.86" fill="url(#g112)"/><polygon points="376.9,439.87 392.86,436.14 392.86,458.14 376.9,461.86" fill="url(#g113)"/><polygon points="365.68,432.87 381.64,429.14 392.86,436.14 376.9,439.87" fill="#6f8bbd"/><polygon points="342.88,432.96 354.1,439.96 354.1,467.18 342.88,460.18" fill="url(#g114)"/><polygon points="354.1,439.96 370.06,436.23 370.06,463.46 354.1,467.18" fill="url(#g115)"/><polygon points="342.88,432.96 358.84,429.23 370.06,436.23 354.1,439.96" fill="#4c6fae"/><polygon points="320.08,465.5 331.3,472.5 331.3,476.62 320.08,469.62" fill="url(#g116)"/><polygon points="331.3,472.5 347.26,468.78 347.26,472.89 331.3,476.62" fill="url(#g117)"/><polygon points="320.08,465.5 336.04,461.78 347.26,468.78 331.3,472.5" fill="#ffffff"/><polygon points="404.51,458.07 415.73,465.07 415.73,466.54 404.51,459.54" fill="url(#g118)"/><polygon points="415.73,465.07 431.69,461.35 431.69,462.82 415.73,466.54" fill="url(#g119)"/><polygon points="404.51,458.07 420.47,454.35 431.69,461.35 415.73,465.07" fill="#f5f7fb"/><polygon points="381.71,459.57 392.93,466.57 392.93,471.86 381.71,464.86" fill="url(#g120)"/><polygon points="392.93,466.57 408.89,462.84 408.89,468.14 392.93,471.86" fill="url(#g121)"/><polygon points="381.71,459.57 397.67,455.84 408.89,462.84 392.93,466.57" fill="#dce3ef"/><polygon points="358.91,462.65 370.13,469.65 370.13,477.18 358.91,470.18" fill="url(#g122)"/><polygon points="370.13,469.65 386.09,465.93 386.09,473.46 370.13,477.18" fill="url(#g123)"/><polygon points="358.91,462.65 374.87,458.93 386.09,465.93 370.13,469.65" fill="#ced7e8"/><polygon points="336.11,475.5 347.33,482.5 347.33,483.68 336.11,476.68" fill="url(#g124)"/><polygon points="347.33,482.5 363.29,478.78 363.29,479.95 347.33,483.68" fill="url(#g125)"/><polygon points="336.11,475.5 352.07,471.78 363.29,478.78 347.33,482.5" fill="#ffffff"/></g></g>
<g><path d="M285.58 648.46L285.58 572.02M285.58 648.46L355.31 691.96M308.38 643.14L308.38 566.7M308.38 643.14L378.11 686.64M331.18 637.82L331.18 561.38M331.18 637.82L400.91 681.32M353.98 632.5L353.98 556.06M353.98 632.5L423.71 676M377.99 640.64L377.99 564.2M293.63 660.32L377.99 640.64M394.02 650.64L394.02 574.2M309.66 670.32L394.02 650.64M410.05 660.64L410.05 584.2M325.69 680.32L410.05 660.64M426.08 670.64L426.08 594.2M341.72 690.32L426.08 670.64M277.6 647.38L361.96 627.7M361.96 627.7L431.69 671.2M277.6 629.74L361.96 610.06M361.96 610.06L431.69 653.56M277.6 612.1L361.96 592.42M361.96 592.42L431.69 635.92M277.6 594.46L361.96 574.78M361.96 574.78L431.69 618.28M277.6 576.82L361.96 557.14M361.96 557.14L431.69 600.64M277.6 650.32L361.96 630.64M361.96 630.64L431.69 674.14" stroke="#e0e0e0" stroke-width="0.7" fill="none"/><path d="M277.6 573.88L277.6 650.32L347.33 693.82L431.69 674.14M277.6 647.38L275.4 646.98M277.6 629.74L275.4 629.34M277.6 612.1L275.4 611.7M277.6 594.46L275.4 594.06M277.6 576.82L275.4 576.42M293.63 660.32L291.43 660.82M309.66 670.32L307.46 670.82M325.69 680.32L323.49 680.82M341.72 690.32L339.52 690.82M355.31 691.96L356.51 693.96M378.11 686.64L379.31 688.64M400.91 681.32L402.11 683.32M423.71 676L424.91 678" stroke="#262626" stroke-width="0.9" fill="none"/><g font-size="10" fill="#111" letter-spacing="0.25"><text x="270.6" y="650.78" text-anchor="end">−0.6</text><text x="270.6" y="633.14" text-anchor="end">−0.3</text><text x="270.6" y="615.5" text-anchor="end">0</text><text x="270.6" y="597.86" text-anchor="end">0.3</text><text x="270.6" y="580.22" text-anchor="end">0.6</text><text x="284.33" y="669.82" text-anchor="end">VV</text><text x="300.36" y="679.82" text-anchor="end">VH</text><text x="316.39" y="689.82" text-anchor="end">HV</text><text x="332.42" y="699.82" text-anchor="end">HH</text><text x="362.71" y="705.36">HH</text><text x="385.51" y="700.04">HV</text><text x="408.31" y="694.72">VH</text><text x="431.11" y="689.4">VV</text><text transform="translate(239.7 612.5) rotate(-90)" text-anchor="middle">Real(<tspan font-style="italic">ρ</tspan>)</text></g><g stroke="#1c1c1c" stroke-width="0.7" stroke-linejoin="round"><polygon points="356.42,603.24 367.64,610.24 367.64,611.42 356.42,604.42" fill="url(#g126)"/><polygon points="367.64,610.24 383.6,606.52 383.6,607.69 367.64,611.42" fill="url(#g127)"/><polygon points="356.42,603.24 372.38,599.52 383.6,606.52 367.64,610.24" fill="#ffffff"/><polygon points="333.62,608.56 344.84,615.56 344.84,616.74 333.62,609.74" fill="url(#g128)"/><polygon points="344.84,615.56 360.8,611.84 360.8,613.01 344.84,616.74" fill="url(#g129)"/><polygon points="333.62,608.56 349.58,604.84 360.8,611.84 344.84,615.56" fill="#ffffff"/><polygon points="310.82,610.06 322.04,617.06 322.04,620.88 310.82,613.88" fill="url(#g130)"/><polygon points="322.04,617.06 338,613.33 338,617.16 322.04,620.88" fill="url(#g131)"/><polygon points="310.82,610.06 326.78,606.33 338,613.33 322.04,617.06" fill="#e6ebf4"/><polygon points="288.02,619.2 299.24,626.2 299.24,626.91 288.02,619.91" fill="url(#g132)"/><polygon points="299.24,626.2 315.2,622.48 315.2,623.18 299.24,626.91" fill="url(#g133)"/><polygon points="288.02,619.2 303.98,615.48 315.2,622.48 299.24,626.2" fill="#ffffff"/><polygon points="372.45,613.24 383.67,620.24 383.67,623.18 372.45,616.18" fill="url(#g134)"/><polygon points="383.67,620.24 399.63,616.52 399.63,619.46 383.67,623.18" fill="url(#g135)"/><polygon points="372.45,613.24 388.41,609.52 399.63,616.52 383.67,620.24" fill="#ffffff"/><polygon points="349.65,590.22 360.87,597.22 360.87,625.56 349.65,618.56" fill="url(#g136)"/><polygon points="360.87,597.22 376.83,593.49 376.83,621.84 360.87,625.56" fill="url(#g137)"/><polygon points="349.65,590.22 365.61,586.49 376.83,593.49 360.87,597.22" fill="#456aaa"/><polygon points="326.85,588.01 338.07,595.01 338.07,630.88 326.85,623.88" fill="url(#g138)"/><polygon points="338.07,595.01 354.03,591.29 354.03,627.16 338.07,630.88" fill="url(#g139)"/><polygon points="326.85,588.01 342.81,584.29 354.03,591.29 338.07,595.01" fill="#123e8e"/><polygon points="304.05,625.38 315.27,632.38 315.27,636.2 304.05,629.2" fill="url(#g140)"/><polygon points="315.27,632.38 331.23,628.65 331.23,632.48 315.27,636.2" fill="url(#g141)"/><polygon points="304.05,625.38 320.01,621.65 331.23,628.65 315.27,632.38" fill="#e6ebf4"/><polygon points="388.48,623.24 399.7,630.24 399.7,633.77 388.48,626.77" fill="url(#g142)"/><polygon points="399.7,630.24 415.66,626.52 415.66,630.04 399.7,633.77" fill="url(#g143)"/><polygon points="388.48,623.24 404.44,619.52 415.66,626.52 399.7,630.24" fill="#ffffff"/><polygon points="365.68,606.33 376.9,613.33 376.9,635.56 365.68,628.56" fill="url(#g144)"/><polygon points="376.9,613.33 392.86,609.61 392.86,631.84 376.9,635.56" fill="url(#g145)"/><polygon points="365.68,606.33 381.64,602.61 392.86,609.61 376.9,613.33" fill="#6d8abc"/><polygon points="342.88,606.24 354.1,613.24 354.1,640.88 342.88,633.88" fill="url(#g146)"/><polygon points="354.1,613.24 370.06,609.52 370.06,637.16 354.1,640.88" fill="url(#g147)"/><polygon points="342.88,606.24 358.84,602.52 370.06,609.52 354.1,613.24" fill="#4a6dac"/><polygon points="320.08,635.97 331.3,642.97 331.3,646.2 320.08,639.2" fill="url(#g148)"/><polygon points="331.3,642.97 347.26,639.24 347.26,642.48 331.3,646.2" fill="url(#g149)"/><polygon points="320.08,635.97 336.04,632.24 347.26,639.24 331.3,642.97" fill="#eaeef5"/><polygon points="404.51,633.24 415.73,640.24 415.73,641.12 404.51,634.12" fill="url(#g150)"/><polygon points="415.73,640.24 431.69,636.52 431.69,637.4 415.73,641.12" fill="url(#g151)"/><polygon points="404.51,633.24 420.47,629.52 431.69,636.52 415.73,640.24" fill="#ffffff"/><polygon points="381.71,638.56 392.93,645.56 392.93,649.68 381.71,642.68" fill="url(#g152)"/><polygon points="392.93,645.56 408.89,641.84 408.89,645.95 392.93,649.68" fill="url(#g153)"/><polygon points="381.71,638.56 397.67,634.84 408.89,641.84 392.93,645.56" fill="#ffffff"/><polygon points="358.91,643.88 370.13,650.88 370.13,655.29 358.91,648.29" fill="url(#g154)"/><polygon points="370.13,650.88 386.09,647.16 386.09,651.57 370.13,655.29" fill="url(#g155)"/><polygon points="358.91,643.88 374.87,640.16 386.09,647.16 370.13,650.88" fill="#ffffff"/><polygon points="336.11,649.2 347.33,656.2 347.33,657.08 336.11,650.08" fill="url(#g156)"/><polygon points="347.33,656.2 363.29,652.48 363.29,653.36 347.33,657.08" fill="url(#g157)"/><polygon points="336.11,649.2 352.07,645.48 363.29,652.48 347.33,656.2" fill="#ffffff"/></g></g>
<g><path d="M525.48 133.96L525.48 57.52M525.48 133.96L595.21 177.46M548.28 128.64L548.28 52.2M548.28 128.64L618.01 172.14M571.08 123.32L571.08 46.88M571.08 123.32L640.81 166.82M593.88 118L593.88 41.56M593.88 118L663.61 161.5M617.89 126.14L617.89 49.7M533.53 145.82L617.89 126.14M633.92 136.14L633.92 59.7M549.56 155.82L633.92 136.14M649.95 146.14L649.95 69.7M565.59 165.82L649.95 146.14M665.98 156.14L665.98 79.7M581.62 175.82L665.98 156.14M517.5 132.88L601.86 113.2M601.86 113.2L671.59 156.7M517.5 115.24L601.86 95.56M601.86 95.56L671.59 139.06M517.5 97.6L601.86 77.92M601.86 77.92L671.59 121.42M517.5 79.96L601.86 60.28M601.86 60.28L671.59 103.78M517.5 62.32L601.86 42.64M601.86 42.64L671.59 86.14M517.5 135.82L601.86 116.14M601.86 116.14L671.59 159.64" stroke="#e0e0e0" stroke-width="0.7" fill="none"/><path d="M517.5 59.38L517.5 135.82L587.23 179.32L671.59 159.64M517.5 132.88L515.3 132.48M517.5 115.24L515.3 114.84M517.5 97.6L515.3 97.2M517.5 79.96L515.3 79.56M517.5 62.32L515.3 61.92M533.53 145.82L531.33 146.32M549.56 155.82L547.36 156.32M565.59 165.82L563.39 166.32M581.62 175.82L579.42 176.32M595.21 177.46L596.41 179.46M618.01 172.14L619.21 174.14M640.81 166.82L642.01 168.82M663.61 161.5L664.81 163.5" stroke="#262626" stroke-width="0.9" fill="none"/><g font-size="10" fill="#111" letter-spacing="0.25"><text x="510.5" y="136.28" text-anchor="end">−0.6</text><text x="510.5" y="118.64" text-anchor="end">−0.3</text><text x="510.5" y="101" text-anchor="end">0</text><text x="510.5" y="83.36" text-anchor="end">0.3</text><text x="510.5" y="65.72" text-anchor="end">0.6</text><text x="524.23" y="155.32" text-anchor="end">VV</text><text x="540.26" y="165.32" text-anchor="end">VH</text><text x="556.29" y="175.32" text-anchor="end">HV</text><text x="572.32" y="185.32" text-anchor="end">HH</text><text x="602.61" y="190.86">HH</text><text x="625.41" y="185.54">HV</text><text x="648.21" y="180.22">VH</text><text x="671.01" y="174.9">VV</text><text transform="translate(479.6 98) rotate(-90)" text-anchor="middle">Real(<tspan font-style="italic">ρ</tspan>)</text></g><g stroke="#1c1c1c" stroke-width="0.7" stroke-linejoin="round"><polygon points="596.32,61.4 607.54,68.4 607.54,95.74 596.32,88.74" fill="url(#g158)"/><polygon points="607.54,68.4 623.5,64.67 623.5,92.02 607.54,95.74" fill="url(#g159)"/><polygon points="596.32,61.4 612.28,57.67 623.5,64.67 607.54,68.4" fill="#4c6fad"/><polygon points="573.52,94.06 584.74,101.06 584.74,105.18 573.52,98.18" fill="url(#g160)"/><polygon points="584.74,101.06 600.7,97.34 600.7,101.45 584.74,105.18" fill="url(#g161)"/><polygon points="573.52,94.06 589.48,90.34 600.7,97.34 584.74,101.06" fill="#ffffff"/><polygon points="550.72,93.21 561.94,100.21 561.94,106.38 550.72,99.38" fill="url(#g162)"/><polygon points="561.94,100.21 577.9,96.48 577.9,102.66 561.94,106.38" fill="url(#g163)"/><polygon points="550.72,93.21 566.68,89.48 577.9,96.48 561.94,100.21" fill="#d6deed"/><polygon points="527.92,83.53 539.14,90.53 539.14,111.7 527.92,104.7" fill="url(#g164)"/><polygon points="539.14,90.53 555.1,86.81 555.1,107.98 539.14,111.7" fill="url(#g165)"/><polygon points="527.92,83.53 543.88,79.81 555.1,86.81 539.14,90.53" fill="#748fc0"/><polygon points="612.35,91.1 623.57,98.1 623.57,105.74 612.35,98.74" fill="url(#g166)"/><polygon points="623.57,98.1 639.53,94.37 639.53,102.02 623.57,105.74" fill="url(#g167)"/><polygon points="612.35,91.1 628.31,87.37 639.53,94.37 623.57,98.1" fill="#cdd7e8"/><polygon points="589.55,103.18 600.77,110.18 600.77,111.06 589.55,104.06" fill="url(#g168)"/><polygon points="600.77,110.18 616.73,106.45 616.73,107.34 600.77,111.06" fill="url(#g169)"/><polygon points="589.55,103.18 605.51,99.45 616.73,106.45 600.77,110.18" fill="#f9fafc"/><polygon points="566.75,108.79 577.97,115.79 577.97,116.38 566.75,109.38" fill="url(#g170)"/><polygon points="577.97,115.79 593.93,112.07 593.93,112.66 577.97,116.38" fill="url(#g171)"/><polygon points="566.75,108.79 582.71,105.07 593.93,112.07 577.97,115.79" fill="#fbfcfd"/><polygon points="543.95,108.82 555.17,115.82 555.17,121.7 543.95,114.7" fill="url(#g172)"/><polygon points="555.17,115.82 571.13,112.1 571.13,117.98 555.17,121.7" fill="url(#g173)"/><polygon points="543.95,108.82 559.91,105.1 571.13,112.1 555.17,115.82" fill="#d8e0ed"/><polygon points="628.38,108.74 639.6,115.74 639.6,121.03 628.38,114.03" fill="url(#g174)"/><polygon points="639.6,115.74 655.56,112.02 655.56,117.31 639.6,121.03" fill="url(#g175)"/><polygon points="628.38,108.74 644.34,105.02 655.56,112.02 639.6,115.74" fill="#ffffff"/><polygon points="605.58,114.06 616.8,121.06 616.8,121.94 605.58,114.94" fill="url(#g176)"/><polygon points="616.8,121.06 632.76,117.34 632.76,118.22 616.8,121.94" fill="url(#g177)"/><polygon points="605.58,114.06 621.54,110.34 632.76,117.34 616.8,121.06" fill="#ffffff"/><polygon points="582.78,118.79 594,125.79 594,126.38 582.78,119.38" fill="url(#g178)"/><polygon points="594,125.79 609.96,122.07 609.96,122.66 594,126.38" fill="url(#g179)"/><polygon points="582.78,118.79 598.74,115.07 609.96,122.07 594,125.79" fill="#fbfcfd"/><polygon points="559.98,124.7 571.2,131.7 571.2,136.99 559.98,129.99" fill="url(#g180)"/><polygon points="571.2,131.7 587.16,127.98 587.16,133.27 571.2,136.99" fill="url(#g181)"/><polygon points="559.98,124.7 575.94,120.98 587.16,127.98 571.2,131.7" fill="#ffffff"/><polygon points="644.41,84.75 655.63,91.75 655.63,125.74 644.41,118.74" fill="url(#g182)"/><polygon points="655.63,91.75 671.59,88.03 671.59,122.02 655.63,125.74" fill="url(#g183)"/><polygon points="644.41,84.75 660.37,81.03 671.59,88.03 655.63,91.75" fill="#1d4895"/><polygon points="621.61,124.06 632.83,131.06 632.83,136.06 621.61,129.06" fill="url(#g184)"/><polygon points="632.83,131.06 648.79,127.34 648.79,132.33 632.83,136.06" fill="url(#g185)"/><polygon points="621.61,124.06 637.57,120.34 648.79,127.34 632.83,131.06" fill="#ffffff"/><polygon points="598.81,121.74 610.03,128.74 610.03,136.38 598.81,129.38" fill="url(#g186)"/><polygon points="610.03,128.74 625.99,125.01 625.99,132.66 610.03,136.38" fill="url(#g187)"/><polygon points="598.81,121.74 614.77,118.01 625.99,125.01 610.03,128.74" fill="#cdd7e8"/><polygon points="576.01,107.53 587.23,114.53 587.23,141.7 576.01,134.7" fill="url(#g188)"/><polygon points="587.23,114.53 603.19,110.81 603.19,137.98 587.23,141.7" fill="url(#g189)"/><polygon points="576.01,107.53 591.97,103.81 603.19,110.81 587.23,114.53" fill="#4d70ae"/></g></g>
<g><path d="M525.48 304.76L525.48 228.32M525.48 304.76L595.21 348.26M548.28 299.44L548.28 223M548.28 299.44L618.01 342.94M571.08 294.12L571.08 217.68M571.08 294.12L640.81 337.62M593.88 288.8L593.88 212.36M593.88 288.8L663.61 332.3M617.89 296.94L617.89 220.5M533.53 316.62L617.89 296.94M633.92 306.94L633.92 230.5M549.56 326.62L633.92 306.94M649.95 316.94L649.95 240.5M565.59 336.62L649.95 316.94M665.98 326.94L665.98 250.5M581.62 346.62L665.98 326.94M517.5 303.68L601.86 284M601.86 284L671.59 327.5M517.5 286.04L601.86 266.36M601.86 266.36L671.59 309.86M517.5 268.4L601.86 248.72M601.86 248.72L671.59 292.22M517.5 250.76L601.86 231.08M601.86 231.08L671.59 274.58M517.5 233.12L601.86 213.44M601.86 213.44L671.59 256.94M517.5 306.62L601.86 286.94M601.86 286.94L671.59 330.44" stroke="#e0e0e0" stroke-width="0.7" fill="none"/><path d="M517.5 230.18L517.5 306.62L587.23 350.12L671.59 330.44M517.5 303.68L515.3 303.28M517.5 286.04L515.3 285.64M517.5 268.4L515.3 268M517.5 250.76L515.3 250.36M517.5 233.12L515.3 232.72M533.53 316.62L531.33 317.12M549.56 326.62L547.36 327.12M565.59 336.62L563.39 337.12M581.62 346.62L579.42 347.12M595.21 348.26L596.41 350.26M618.01 342.94L619.21 344.94M640.81 337.62L642.01 339.62M663.61 332.3L664.81 334.3" stroke="#262626" stroke-width="0.9" fill="none"/><g font-size="10" fill="#111" letter-spacing="0.25"><text x="510.5" y="307.08" text-anchor="end">−0.6</text><text x="510.5" y="289.44" text-anchor="end">−0.3</text><text x="510.5" y="271.8" text-anchor="end">0</text><text x="510.5" y="254.16" text-anchor="end">0.3</text><text x="510.5" y="236.52" text-anchor="end">0.6</text><text x="524.23" y="326.12" text-anchor="end">VV</text><text x="540.26" y="336.12" text-anchor="end">VH</text><text x="556.29" y="346.12" text-anchor="end">HV</text><text x="572.32" y="356.12" text-anchor="end">HH</text><text x="602.61" y="361.66">HH</text><text x="625.41" y="356.34">HV</text><text x="648.21" y="351.02">VH</text><text x="671.01" y="345.7">VV</text><text transform="translate(479.6 268.8) rotate(-90)" text-anchor="middle">Real(<tspan font-style="italic">ρ</tspan>)</text></g><g stroke="#1c1c1c" stroke-width="0.7" stroke-linejoin="round"><polygon points="596.32,231.32 607.54,238.32 607.54,266.54 596.32,259.54" fill="url(#g190)"/><polygon points="607.54,238.32 623.5,234.59 623.5,262.82 607.54,266.54" fill="url(#g191)"/><polygon points="596.32,231.32 612.28,227.59 623.5,234.59 607.54,238.32" fill="#466aab"/><polygon points="573.52,261.63 584.74,268.63 584.74,271.86 573.52,264.86" fill="#fff"/><polygon points="584.74,268.63 600.7,264.9 600.7,268.14 584.74,271.86" fill="#fff"/><polygon points="573.52,261.63 589.48,257.9 600.7,264.9 584.74,268.63" fill="#ffffff"/><polygon points="550.72,270.18 561.94,277.18 561.94,281 550.72,274" fill="#fff"/><polygon points="561.94,277.18 577.9,273.46 577.9,277.28 561.94,281" fill="#fff"/><polygon points="550.72,270.18 566.68,266.46 577.9,273.46 561.94,277.18" fill="#ffffff"/><polygon points="527.92,253.86 539.14,260.86 539.14,282.5 527.92,275.5" fill="url(#g192)"/><polygon points="539.14,260.86 555.1,257.14 555.1,278.78 539.14,282.5" fill="url(#g193)"/><polygon points="527.92,253.86 543.88,250.14 555.1,257.14 539.14,260.86" fill="#718dbe"/><polygon points="612.35,269.54 623.57,276.54 623.57,281.13 612.35,274.13" fill="#fff"/><polygon points="623.57,276.54 639.53,272.82 639.53,277.4 623.57,281.13" fill="#fff"/><polygon points="612.35,269.54 628.31,265.82 639.53,272.82 623.57,276.54" fill="#ffffff"/><polygon points="589.55,274.51 600.77,281.51 600.77,281.86 589.55,274.86" fill="#fff"/><polygon points="600.77,281.51 616.73,277.78 616.73,278.14 600.77,281.86" fill="#fff"/><polygon points="589.55,274.51 605.51,270.78 616.73,277.78 600.77,281.51" fill="#ffffff"/><polygon points="566.75,279.59 577.97,286.59 577.97,287.18 566.75,280.18" fill="#fff"/><polygon points="577.97,286.59 593.93,282.87 593.93,283.46 577.97,287.18" fill="#fff"/><polygon points="566.75,279.59 582.71,275.87 593.93,282.87 577.97,286.59" fill="#ffffff"/><polygon points="543.95,285.5 555.17,292.5 555.17,296.91 543.95,289.91" fill="#fff"/><polygon points="555.17,292.5 571.13,288.78 571.13,293.19 555.17,296.91" fill="#fff"/><polygon points="543.95,285.5 559.91,281.78 571.13,288.78 555.17,292.5" fill="#ffffff"/><polygon points="628.38,275.72 639.6,282.72 639.6,286.54 628.38,279.54" fill="#fff"/><polygon points="639.6,282.72 655.56,278.99 655.56,282.82 639.6,286.54" fill="#fff"/><polygon points="628.38,275.72 644.34,271.99 655.56,278.99 639.6,282.72" fill="#ffffff"/><polygon points="605.58,284.86 616.8,291.86 616.8,292.57 605.58,285.57" fill="#fff"/><polygon points="616.8,291.86 632.76,288.14 632.76,288.84 616.8,292.57" fill="#fff"/><polygon points="605.58,284.86 621.54,281.14 632.76,288.14 616.8,291.86" fill="#ffffff"/><polygon points="582.78,290.18 594,297.18 594,297.77 582.78,290.77" fill="#fff"/><polygon points="594,297.18 609.96,293.46 609.96,294.04 594,297.77" fill="#fff"/><polygon points="582.78,290.18 598.74,286.46 609.96,293.46 594,297.18" fill="#ffffff"/><polygon points="559.98,292.27 571.2,299.27 571.2,302.5 559.98,295.5" fill="#fff"/><polygon points="571.2,299.27 587.16,295.54 587.16,298.78 571.2,302.5" fill="#fff"/><polygon points="559.98,292.27 575.94,288.54 587.16,295.54 571.2,299.27" fill="#ffffff"/><polygon points="644.41,253.5 655.63,260.5 655.63,296.54 644.41,289.54" fill="url(#g194)"/><polygon points="655.63,260.5 671.59,256.77 671.59,292.82 655.63,296.54" fill="url(#g195)"/><polygon points="644.41,253.5 660.37,249.77 671.59,256.77 655.63,260.5" fill="#123d8d"/><polygon points="621.61,292.21 632.83,299.21 632.83,301.86 621.61,294.86" fill="#fff"/><polygon points="632.83,299.21 648.79,295.49 648.79,298.14 632.83,301.86" fill="#fff"/><polygon points="621.61,292.21 637.57,288.49 648.79,295.49 632.83,299.21" fill="#ffffff"/><polygon points="598.81,300.18 610.03,307.18 610.03,312.06 598.81,305.06" fill="#fff"/><polygon points="610.03,307.18 625.99,303.46 625.99,308.34 610.03,312.06" fill="#fff"/><polygon points="598.81,300.18 614.77,296.46 625.99,303.46 610.03,307.18" fill="#ffffff"/><polygon points="576.01,277.57 587.23,284.57 587.23,312.5 576.01,305.5" fill="url(#g196)"/><polygon points="587.23,284.57 603.19,280.85 603.19,308.78 587.23,312.5" fill="url(#g197)"/><polygon points="576.01,277.57 591.97,273.85 603.19,280.85 587.23,284.57" fill="#486cab"/></g></g>
<g><path d="M525.48 474.76L525.48 398.32M525.48 474.76L595.21 518.26M548.28 469.44L548.28 393M548.28 469.44L618.01 512.94M571.08 464.12L571.08 387.68M571.08 464.12L640.81 507.62M593.88 458.8L593.88 382.36M593.88 458.8L663.61 502.3M617.89 466.94L617.89 390.5M533.53 486.62L617.89 466.94M633.92 476.94L633.92 400.5M549.56 496.62L633.92 476.94M649.95 486.94L649.95 410.5M565.59 506.62L649.95 486.94M665.98 496.94L665.98 420.5M581.62 516.62L665.98 496.94M517.5 473.68L601.86 454M601.86 454L671.59 497.5M517.5 456.04L601.86 436.36M601.86 436.36L671.59 479.86M517.5 438.4L601.86 418.72M601.86 418.72L671.59 462.22M517.5 420.76L601.86 401.08M601.86 401.08L671.59 444.58M517.5 403.12L601.86 383.44M601.86 383.44L671.59 426.94M517.5 476.62L601.86 456.94M601.86 456.94L671.59 500.44" stroke="#e0e0e0" stroke-width="0.7" fill="none"/><path d="M517.5 400.18L517.5 476.62L587.23 520.12L671.59 500.44M517.5 473.68L515.3 473.28M517.5 456.04L515.3 455.64M517.5 438.4L515.3 438M517.5 420.76L515.3 420.36M517.5 403.12L515.3 402.72M533.53 486.62L531.33 487.12M549.56 496.62L547.36 497.12M565.59 506.62L563.39 507.12M581.62 516.62L579.42 517.12M595.21 518.26L596.41 520.26M618.01 512.94L619.21 514.94M640.81 507.62L642.01 509.62M663.61 502.3L664.81 504.3" stroke="#262626" stroke-width="0.9" fill="none"/><g font-size="10" fill="#111" letter-spacing="0.25"><text x="510.5" y="477.08" text-anchor="end">−0.6</text><text x="510.5" y="459.44" text-anchor="end">−0.3</text><text x="510.5" y="441.8" text-anchor="end">0</text><text x="510.5" y="424.16" text-anchor="end">0.3</text><text x="510.5" y="406.52" text-anchor="end">0.6</text><text x="524.23" y="496.12" text-anchor="end">VV</text><text x="540.26" y="506.12" text-anchor="end">VH</text><text x="556.29" y="516.12" text-anchor="end">HV</text><text x="572.32" y="526.12" text-anchor="end">HH</text><text x="602.61" y="531.66">HH</text><text x="625.41" y="526.34">HV</text><text x="648.21" y="521.02">VH</text><text x="671.01" y="515.7">VV</text><text transform="translate(479.6 438.8) rotate(-90)" text-anchor="middle">Real(<tspan font-style="italic">ρ</tspan>)</text></g><g stroke="#1c1c1c" stroke-width="0.7" stroke-linejoin="round"><polygon points="596.32,428.36 607.54,435.36 607.54,436.54 596.32,429.54" fill="url(#g198)"/><polygon points="607.54,435.36 623.5,431.64 623.5,432.82 607.54,436.54" fill="url(#g199)"/><polygon points="596.32,428.36 612.28,424.64 623.5,431.64 607.54,435.36" fill="#f7f9fb"/><polygon points="573.52,434.86 584.74,441.86 584.74,444.8 573.52,437.8" fill="url(#g200)"/><polygon points="584.74,441.86 600.7,438.14 600.7,441.08 584.74,444.8" fill="url(#g201)"/><polygon points="573.52,434.86 589.48,431.14 600.7,438.14 584.74,441.86" fill="#ffffff"/><polygon points="550.72,437.24 561.94,444.24 561.94,447.18 550.72,440.18" fill="url(#g202)"/><polygon points="561.94,444.24 577.9,440.52 577.9,443.46 561.94,447.18" fill="url(#g203)"/><polygon points="550.72,437.24 566.68,433.52 577.9,440.52 561.94,444.24" fill="#ecf0f6"/><polygon points="527.92,445.5 539.14,452.5 539.14,452.85 527.92,445.85" fill="url(#g204)"/><polygon points="539.14,452.5 555.1,448.78 555.1,449.13 539.14,452.85" fill="url(#g205)"/><polygon points="527.92,445.5 543.88,441.78 555.1,448.78 539.14,452.5" fill="#ffffff"/><polygon points="612.35,435.72 623.57,442.72 623.57,446.54 612.35,439.54" fill="url(#g206)"/><polygon points="623.57,442.72 639.53,438.99 639.53,442.82 623.57,446.54" fill="url(#g207)"/><polygon points="612.35,435.72 628.31,431.99 639.53,438.99 623.57,442.72" fill="#e6ebf4"/><polygon points="589.55,444.86 600.77,451.86 600.77,479.5 589.55,472.5" fill="url(#g208)"/><polygon points="600.77,451.86 616.73,448.14 616.73,475.77 600.77,479.5" fill="url(#g209)"/><polygon points="589.55,444.86 605.51,441.14 616.73,448.14 600.77,451.86" fill="#ffffff"/><polygon points="566.75,414.43 577.97,421.43 577.97,457.18 566.75,450.18" fill="url(#g210)"/><polygon points="577.97,421.43 593.93,417.71 593.93,453.46 577.97,457.18" fill="url(#g211)"/><polygon points="566.75,414.43 582.71,410.71 593.93,417.71 577.97,421.43" fill="#133e8e"/><polygon points="543.95,452.27 555.17,459.27 555.17,462.5 543.95,455.5" fill="url(#g212)"/><polygon points="555.17,459.27 571.13,455.54 571.13,458.78 555.17,462.5" fill="url(#g213)"/><polygon points="543.95,452.27 559.91,448.54 571.13,455.54 555.17,459.27" fill="#eaeef5"/><polygon points="628.38,449.54 639.6,456.54 639.6,460.66 628.38,453.66" fill="url(#g214)"/><polygon points="639.6,456.54 655.56,452.82 655.56,456.93 639.6,460.66" fill="url(#g215)"/><polygon points="628.38,449.54 644.34,445.82 655.56,452.82 639.6,456.54" fill="#ffffff"/><polygon points="605.58,433.1 616.8,440.1 616.8,461.86 605.58,454.86" fill="url(#g216)"/><polygon points="616.8,440.1 632.76,436.38 632.76,458.14 616.8,461.86" fill="url(#g217)"/><polygon points="605.58,433.1 621.54,429.38 632.76,436.38 616.8,440.1" fill="#708cbe"/><polygon points="582.78,460.18 594,467.18 594,495.11 582.78,488.11" fill="url(#g218)"/><polygon points="594,467.18 609.96,463.46 609.96,491.39 594,495.11" fill="url(#g219)"/><polygon points="582.78,460.18 598.74,456.46 609.96,463.46 594,467.18" fill="#ffffff"/><polygon points="559.98,465.5 571.2,472.5 571.2,476.03 559.98,469.03" fill="url(#g220)"/><polygon points="571.2,472.5 587.16,468.78 587.16,472.3 571.2,476.03" fill="url(#g221)"/><polygon points="559.98,465.5 575.94,461.78 587.16,468.78 571.2,472.5" fill="#ffffff"/><polygon points="644.41,459.54 655.63,466.54 655.63,467.01 644.41,460.01" fill="url(#g222)"/><polygon points="655.63,466.54 671.59,462.82 671.59,463.29 655.63,467.01" fill="url(#g223)"/><polygon points="644.41,459.54 660.37,455.82 671.59,462.82 655.63,466.54" fill="#ffffff"/><polygon points="621.61,464.86 632.83,471.86 632.83,475.68 621.61,468.68" fill="url(#g224)"/><polygon points="632.83,471.86 648.79,468.14 648.79,471.96 632.83,475.68" fill="url(#g225)"/><polygon points="621.61,464.86 637.57,461.14 648.79,468.14 632.83,471.86" fill="#ffffff"/><polygon points="598.81,466.65 610.03,473.65 610.03,477.18 598.81,470.18" fill="url(#g226)"/><polygon points="610.03,473.65 625.99,469.93 625.99,473.46 610.03,477.18" fill="url(#g227)"/><polygon points="598.81,466.65 614.77,462.93 625.99,469.93 610.03,473.65" fill="#e8ecf4"/><polygon points="576.01,475.5 587.23,482.5 587.23,482.97 576.01,475.97" fill="url(#g228)"/><polygon points="587.23,482.5 603.19,478.78 603.19,479.25 587.23,482.97" fill="url(#g229)"/><polygon points="576.01,475.5 591.97,471.78 603.19,478.78 587.23,482.5" fill="#ffffff"/></g></g>
<g><path d="M525.48 648.46L525.48 572.02M525.48 648.46L595.21 691.96M548.28 643.14L548.28 566.7M548.28 643.14L618.01 686.64M571.08 637.82L571.08 561.38M571.08 637.82L640.81 681.32M593.88 632.5L593.88 556.06M593.88 632.5L663.61 676M617.89 640.64L617.89 564.2M533.53 660.32L617.89 640.64M633.92 650.64L633.92 574.2M549.56 670.32L633.92 650.64M649.95 660.64L649.95 584.2M565.59 680.32L649.95 660.64M665.98 670.64L665.98 594.2M581.62 690.32L665.98 670.64M517.5 647.38L601.86 627.7M601.86 627.7L671.59 671.2M517.5 629.74L601.86 610.06M601.86 610.06L671.59 653.56M517.5 612.1L601.86 592.42M601.86 592.42L671.59 635.92M517.5 594.46L601.86 574.78M601.86 574.78L671.59 618.28M517.5 576.82L601.86 557.14M601.86 557.14L671.59 600.64M517.5 650.32L601.86 630.64M601.86 630.64L671.59 674.14" stroke="#e0e0e0" stroke-width="0.7" fill="none"/><path d="M517.5 573.88L517.5 650.32L587.23 693.82L671.59 674.14M517.5 647.38L515.3 646.98M517.5 629.74L515.3 629.34M517.5 612.1L515.3 611.7M517.5 594.46L515.3 594.06M517.5 576.82L515.3 576.42M533.53 660.32L531.33 660.82M549.56 670.32L547.36 670.82M565.59 680.32L563.39 680.82M581.62 690.32L579.42 690.82M595.21 691.96L596.41 693.96M618.01 686.64L619.21 688.64M640.81 681.32L642.01 683.32M663.61 676L664.81 678" stroke="#262626" stroke-width="0.9" fill="none"/><g font-size="10" fill="#111" letter-spacing="0.25"><text x="510.5" y="650.78" text-anchor="end">−0.6</text><text x="510.5" y="633.14" text-anchor="end">−0.3</text><text x="510.5" y="615.5" text-anchor="end">0</text><text x="510.5" y="597.86" text-anchor="end">0.3</text><text x="510.5" y="580.22" text-anchor="end">0.6</text><text x="524.23" y="669.82" text-anchor="end">VV</text><text x="540.26" y="679.82" text-anchor="end">VH</text><text x="556.29" y="689.82" text-anchor="end">HV</text><text x="572.32" y="699.82" text-anchor="end">HH</text><text x="602.61" y="705.36">HH</text><text x="625.41" y="700.04">HV</text><text x="648.21" y="694.72">VH</text><text x="671.01" y="689.4">VV</text><text transform="translate(479.6 612.5) rotate(-90)" text-anchor="middle">Real(<tspan font-style="italic">ρ</tspan>)</text></g><g stroke="#1c1c1c" stroke-width="0.7" stroke-linejoin="round"><polygon points="596.32,601.48 607.54,608.48 607.54,610.24 596.32,603.24" fill="url(#g230)"/><polygon points="607.54,608.48 623.5,604.75 623.5,606.52 607.54,610.24" fill="url(#g231)"/><polygon points="596.32,601.48 612.28,597.75 623.5,604.75 607.54,608.48" fill="#f3f6fa"/><polygon points="573.52,604.44 584.74,611.44 584.74,615.56 573.52,608.56" fill="url(#g232)"/><polygon points="584.74,611.44 600.7,607.72 600.7,611.84 584.74,615.56" fill="url(#g233)"/><polygon points="573.52,604.44 589.48,600.72 600.7,607.72 584.74,611.44" fill="#e4e9f3"/><polygon points="550.72,613.88 561.94,620.88 561.94,625.88 550.72,618.88" fill="url(#g234)"/><polygon points="561.94,620.88 577.9,617.16 577.9,622.15 561.94,625.88" fill="url(#g235)"/><polygon points="550.72,613.88 566.68,610.16 577.9,617.16 561.94,620.88" fill="#ffffff"/><polygon points="527.92,618.32 539.14,625.32 539.14,626.2 527.92,619.2" fill="url(#g236)"/><polygon points="539.14,625.32 555.1,621.59 555.1,622.48 539.14,626.2" fill="url(#g237)"/><polygon points="527.92,618.32 543.88,614.59 555.1,621.59 539.14,625.32" fill="#f9fafc"/><polygon points="612.35,613.24 623.57,620.24 623.57,622 612.35,615" fill="url(#g238)"/><polygon points="623.57,620.24 639.53,616.52 639.53,618.28 623.57,622" fill="url(#g239)"/><polygon points="612.35,613.24 628.31,609.52 639.53,616.52 623.57,620.24" fill="#ffffff"/><polygon points="589.55,618.56 600.77,625.56 600.77,652.02 589.55,645.02" fill="url(#g240)"/><polygon points="600.77,625.56 616.73,621.84 616.73,648.3 600.77,652.02" fill="url(#g241)"/><polygon points="589.55,618.56 605.51,614.84 616.73,621.84 600.77,625.56" fill="#ffffff"/><polygon points="566.75,589.36 577.97,596.36 577.97,630.88 566.75,623.88" fill="url(#g242)"/><polygon points="577.97,596.36 593.93,592.64 593.93,627.16 577.97,630.88" fill="url(#g243)"/><polygon points="566.75,589.36 582.71,585.64 593.93,592.64 577.97,596.36" fill="#194593"/><polygon points="543.95,629.2 555.17,636.2 555.17,641.49 543.95,634.49" fill="url(#g244)"/><polygon points="555.17,636.2 571.13,632.48 571.13,637.77 555.17,641.49" fill="url(#g245)"/><polygon points="543.95,629.2 559.91,625.48 571.13,632.48 555.17,636.2" fill="#ffffff"/><polygon points="628.38,617.65 639.6,624.65 639.6,630.24 628.38,623.24" fill="url(#g246)"/><polygon points="639.6,624.65 655.56,620.93 655.56,626.52 639.6,630.24" fill="url(#g247)"/><polygon points="628.38,617.65 644.34,613.93 655.56,620.93 639.6,624.65" fill="#dae2ee"/><polygon points="605.58,606.92 616.8,613.92 616.8,635.56 605.58,628.56" fill="url(#g248)"/><polygon points="616.8,613.92 632.76,610.2 632.76,631.84 616.8,635.56" fill="url(#g249)"/><polygon points="605.58,606.92 621.54,603.2 632.76,610.2 616.8,613.92" fill="#718dbe"/><polygon points="582.78,633.88 594,640.88 594,667.93 582.78,660.93" fill="url(#g250)"/><polygon points="594,640.88 609.96,637.16 609.96,664.2 594,667.93" fill="url(#g251)"/><polygon points="582.78,633.88 598.74,630.16 609.96,637.16 594,640.88" fill="#ffffff"/><polygon points="559.98,635.08 571.2,642.08 571.2,646.2 559.98,639.2" fill="url(#g252)"/><polygon points="571.2,642.08 587.16,638.36 587.16,642.48 571.2,646.2" fill="url(#g253)"/><polygon points="559.98,635.08 575.94,631.36 587.16,638.36 571.2,642.08" fill="#e4e9f3"/><polygon points="644.41,631.77 655.63,638.77 655.63,640.24 644.41,633.24" fill="url(#g254)"/><polygon points="655.63,638.77 671.59,635.05 671.59,636.52 655.63,640.24" fill="url(#g255)"/><polygon points="644.41,631.77 660.37,628.05 671.59,635.05 655.63,638.77" fill="#f5f7fb"/><polygon points="621.61,633.27 632.83,640.27 632.83,645.56 621.61,638.56" fill="url(#g256)"/><polygon points="632.83,640.27 648.79,636.54 648.79,641.84 632.83,645.56" fill="url(#g257)"/><polygon points="621.61,633.27 637.57,629.54 648.79,636.54 632.83,640.27" fill="#dce3ef"/><polygon points="598.81,643.88 610.03,650.88 610.03,657.94 598.81,650.94" fill="url(#g258)"/><polygon points="610.03,650.88 625.99,647.16 625.99,654.21 610.03,657.94" fill="url(#g259)"/><polygon points="598.81,643.88 614.77,640.16 625.99,647.16 610.03,650.88" fill="#ffffff"/><polygon points="576.01,648.32 587.23,655.32 587.23,656.2 576.01,649.2" fill="url(#g260)"/><polygon points="587.23,655.32 603.19,651.59 603.19,652.48 587.23,656.2" fill="url(#g261)"/><polygon points="576.01,648.32 591.97,644.59 603.19,651.59 587.23,655.32" fill="#f9fafc"/></g></g>
<g font-weight="bold" font-size="10">
<text x="112.5" y="8.9" font-size="10.3" fill="#4d69a8">Input</text>
<text x="461.8" y="8.9" font-size="10.4" fill="#4d69a8">Output</text>
<text x="108.8" y="22.4" font-size="10" fill="#000">Loop 1</text>
<text x="378" y="23.1" fill="#111">CW</text>
<text x="622" y="21.9" fill="#111">CCW</text>
</g>
<path d="M106 31.5H143V29.4L151.2 33.8L143 38.2V36.1H106Z" fill="#000"/>
<g fill="none" stroke="#000" stroke-width="2.6">
<circle cx="339.4" cy="22.2" r="17.9"/>
<path d="M313.9 26.6L321.5 16.4L328.8 26.4M349.6 17.4L357 27.4L365.2 17.2"/>
<circle cx="586.4" cy="20.2" r="17.9"/>
<path d="M559.5 15.6L568 26.2L575.5 15.8M595.8 26.2L603.9 15.2L611.5 26.2"/>
</g>
<circle cx="338.5" cy="21" r="3.3" fill="#8cc63f" stroke="#3b5aa6" stroke-width="1.4"/>
<circle cx="585.3" cy="20.5" r="3.3" fill="#8cc63f" stroke="#3b5aa6" stroke-width="1.4"/>
<g font-weight="bold" font-size="15.5" fill="#000">
<text x="0" y="46.8">a</text>
<text x="0" y="216.8">b</text>
<text x="0" y="388.6">c</text>
<text x="0" y="559.3">d</text>
<text x="230.5" y="46.8">e</text>
<text x="230.5" y="216.8">f</text>
<text x="230.5" y="388.6">g</text>
<text x="230.5" y="559.3">h</text>
<text x="470.9" y="46.8">i</text>
<text x="470.9" y="216.8">j</text>
<text x="470.9" y="388.6">k</text>
<text x="470.9" y="559.3">l</text>
</g>
<polygon points="182.5,41.9 184.7,48.88 191.82,48.88 186.06,53.19 188.26,60.17 182.5,55.86 176.74,60.17 178.94,53.19 173.18,48.88 180.3,48.88" fill="#fff" stroke="#000" stroke-width="1.8" stroke-linejoin="miter"/>
<polygon points="180.25,216.7 182.45,224.02 189.57,224.02 183.81,228.55 186.01,235.88 180.25,231.35 174.49,235.88 176.69,228.55 170.93,224.02 178.05,224.02" fill="#fbd166" stroke="#000" stroke-width="1.5" stroke-linejoin="miter"/>
<polygon points="176.6,397.3 178.81,404.28 185.95,404.28 180.17,408.59 182.38,415.57 176.6,411.26 170.82,415.57 173.03,408.59 167.25,404.28 174.39,404.28" fill="#e0301e"/>
<polygon points="174.7,571.43 176.8,578.11 183.6,578.11 178.1,582.24 180.2,588.92 174.7,584.79 169.2,588.92 171.3,582.24 165.8,578.11 172.6,578.11" fill="#8faadc"/>
<g font-weight="bold" fill="#111">
<text class="z" x="199.7" y="56.2" font-size="11.2">ζ<tspan class="s" font-size="7.8" dy="1.7" dx="-0.8">1</tspan></text>
<text class="z" x="199.7" y="231.6" font-size="11.2">ζ<tspan class="s" font-size="7.8" dy="1.7" dx="-0.8">2</tspan></text>
<text class="z" x="199.7" y="410.4" font-size="11.2">ζ<tspan class="s" font-size="7.8" dy="1.7" dx="-0.8">3</tspan></text>
<text class="z" x="199.7" y="583.3" font-size="11.2">ζ<tspan class="s" font-size="7.8" dy="1.7" dx="-0.8">4</tspan></text>
</g>
<g font-size="9" fill="#111" word-spacing="-0.5">
<text x="390.4" y="57"><tspan font-style="italic">F</tspan> = 98.3%</text>
<text x="390.3" y="230"><tspan font-style="italic">F</tspan> = 96.4%</text>
<text x="390.6" y="401.8"><tspan font-style="italic">F</tspan> = 96.4%</text>
<text x="390.6" y="577.8"><tspan font-style="italic">F</tspan> = 98.3%</text>
<text x="629" y="56.3"><tspan font-style="italic">F</tspan> = 96.4%</text>
<text x="630.9" y="226.8"><tspan font-style="italic">F</tspan> = 98.3%</text>
<text x="631.8" y="400.1"><tspan font-style="italic">F</tspan> = 98.3%</text>
<text x="630.9" y="576.4"><tspan font-style="italic">F</tspan> = 96.4%</text>
</g>
</svg></body></html>
